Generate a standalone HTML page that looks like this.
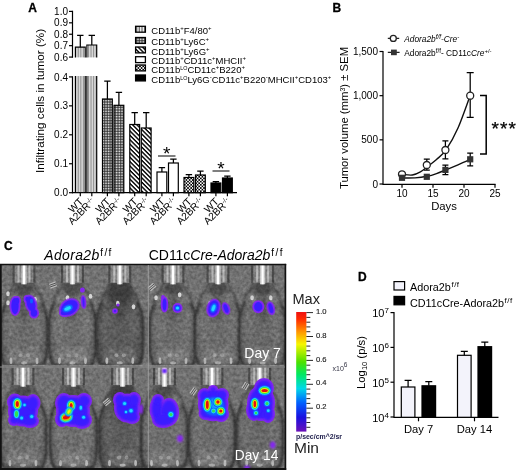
<!DOCTYPE html>
<html><head><meta charset="utf-8"><title>Figure</title>
<style>
html,body{margin:0;padding:0;background:#fff;}
body{width:520px;height:470px;overflow:hidden;}
svg{display:block;font-family:"Liberation Sans",Arial,sans-serif;}
.ax{stroke:#000;stroke-width:1.2;fill:none;}
.bar{stroke:#000;stroke-width:1.2;}
.eb{stroke:#000;stroke-width:1.25;fill:none;}
</style></head><body>
<svg width="520" height="470" viewBox="0 0 520 470">
<defs>
<pattern id="pv" width="1.6" height="4" patternUnits="userSpaceOnUse"><rect width="1.6" height="4" fill="#fff"/><rect x="0" width="0.6" height="4" fill="#333"/></pattern>
<pattern id="pg" width="1.6" height="1.6" patternUnits="userSpaceOnUse"><rect width="1.6" height="1.6" fill="#fff"/><rect width="0.62" height="1.6" fill="#222"/><rect width="1.6" height="0.62" fill="#222"/></pattern>
<pattern id="pd" width="3.1" height="3.1" patternUnits="userSpaceOnUse" patternTransform="rotate(45)"><rect width="3.1" height="3.1" fill="#fff"/><rect width="3.1" height="1.4" fill="#000"/></pattern>
<pattern id="pc" width="3.2" height="3.2" patternUnits="userSpaceOnUse"><rect width="3.2" height="3.2" fill="#fff"/><rect width="1.6" height="1.6" fill="#000"/><rect x="1.6" y="1.6" width="1.6" height="1.6" fill="#000"/></pattern>
<filter id="b1" x="-20%" y="-20%" width="140%" height="140%"><feGaussianBlur stdDeviation="1"/></filter>
<filter id="b2" x="-30%" y="-30%" width="160%" height="160%"><feGaussianBlur stdDeviation="2"/></filter>
<filter id="b05" x="-20%" y="-20%" width="140%" height="140%"><feGaussianBlur stdDeviation="0.6"/></filter>
<filter id="b3" x="-30%" y="-30%" width="160%" height="160%"><feGaussianBlur stdDeviation="3"/></filter>
<filter id="fur" x="0" y="0" width="100%" height="100%" color-interpolation-filters="sRGB"><feTurbulence type="fractalNoise" baseFrequency="0.3" numOctaves="2" seed="7"/><feColorMatrix type="matrix" values="1.3 0 0 0 -0.15  1.3 0 0 0 -0.15  1.3 0 0 0 -0.15  0 0 0 0 1"/></filter>
<linearGradient id="cb" x1="0" y1="0" x2="0" y2="1">
<stop offset="0" stop-color="#ee1111"/><stop offset="0.06" stop-color="#ff2a00"/><stop offset="0.17" stop-color="#ff9a00"/><stop offset="0.27" stop-color="#f6f600"/>
<stop offset="0.42" stop-color="#4be000"/><stop offset="0.52" stop-color="#00e860"/><stop offset="0.64" stop-color="#00d8e8"/><stop offset="0.76" stop-color="#0060ff"/>
<stop offset="0.88" stop-color="#1a10e0"/><stop offset="1" stop-color="#6a10b8"/></linearGradient>
</defs>
<rect width="520" height="470" fill="#fff"/>

<g id="panelA">
<text x="28.2" y="11.8" font-size="12" font-weight="bold" stroke="#000" stroke-width="0.3">A</text>
<path class="ax" d="M72.5 10.8V57.7M72.5 76.3V193.3"/>
<path class="ax" d="M69.0 11.4H72.5"/>
<text x="68" y="15.0" font-size="10" text-anchor="end">1.0</text>
<path class="ax" d="M69.0 22.82H72.5"/>
<text x="68" y="26.42" font-size="10" text-anchor="end">0.9</text>
<path class="ax" d="M69.0 34.24H72.5"/>
<text x="68" y="37.84" font-size="10" text-anchor="end">0.8</text>
<path class="ax" d="M69.0 45.66H72.5"/>
<text x="68" y="49.26" font-size="10" text-anchor="end">0.7</text>
<path class="ax" d="M69.0 57.08H72.5"/>
<text x="68" y="60.68" font-size="10" text-anchor="end">0.6</text>
<path class="ax" d="M69.0 76.90H72.5"/>
<text x="68" y="80.50" font-size="10" text-anchor="end">0.4</text>
<path class="ax" d="M69.0 105.85H72.5"/>
<text x="68" y="109.45" font-size="10" text-anchor="end">0.3</text>
<path class="ax" d="M69.0 134.80H72.5"/>
<text x="68" y="138.40" font-size="10" text-anchor="end">0.2</text>
<path class="ax" d="M69.0 163.75H72.5"/>
<text x="68" y="167.35" font-size="10" text-anchor="end">0.1</text>
<path class="ax" d="M69.0 192.70H72.5"/>
<text x="68" y="196.30" font-size="10" text-anchor="end">0.0</text>
<text transform="translate(44,101) rotate(-90)" font-size="11.7" text-anchor="middle">Infiltrating cells in tumor (%)</text>
<path class="ax" d="M71.9 192.7H237"/>
<rect x="75.4" y="47.2" width="9.8" height="10.20" fill="#fff" stroke="none"/>
<path d="M77.03 47.2V57.4M77.03 76V192.7M78.67 47.2V57.4M78.67 76V192.7M80.30 47.2V57.4M80.30 76V192.7M81.93 47.2V57.4M81.93 76V192.7M83.57 47.2V57.4M83.57 76V192.7" stroke="#333" stroke-width="0.55" fill="none"/>
<path class="bar" fill="none" d="M75.4 57.4V47.2H85.2V57.4"/>
<path class="eb" d="M80.30000000000001 47.2V35.4M77.10000000000001 35.4H83.50000000000001"/>
<path class="bar" fill="none" d="M75.4 76V192.7M85.2 76V192.7"/>
<path class="ax" d="M80.30000000000001 192.7V196.2"/>
<text transform="translate(83.80000000000001,202.2) rotate(-45)" font-size="10.2" text-anchor="end">WT</text>
<rect x="86.9" y="45" width="9.8" height="12.40" fill="#fff" stroke="none"/>
<path d="M88.53 45V57.4M88.53 76V192.7M90.17 45V57.4M90.17 76V192.7M91.80 45V57.4M91.80 76V192.7M93.43 45V57.4M93.43 76V192.7M95.07 45V57.4M95.07 76V192.7" stroke="#333" stroke-width="0.55" fill="none"/>
<path class="bar" fill="none" d="M86.9 57.4V45H96.7V57.4"/>
<path class="eb" d="M91.80000000000001 45V35.4M88.60000000000001 35.4H95.00000000000001"/>
<path class="bar" fill="none" d="M86.9 76V192.7M96.7 76V192.7"/>
<path class="ax" d="M91.80000000000001 192.7V196.2"/>
<text transform="translate(95.30000000000001,202.2) rotate(-45)" font-size="10.2" text-anchor="end">A2BR<tspan font-size="6.5" dy="-3.5">-/-</tspan></text>
<rect class="bar" x="102.5" y="99" width="9.8" height="93.70" fill="url(#pg)"/>
<path class="eb" d="M107.4 99V81M104.2 81H110.60000000000001"/>
<path class="ax" d="M107.4 192.7V196.2"/>
<text transform="translate(110.9,202.2) rotate(-45)" font-size="10.2" text-anchor="end">WT</text>
<rect class="bar" x="114.0" y="105.3" width="9.8" height="87.40" fill="url(#pg)"/>
<path class="eb" d="M118.9 105.3V92.3M115.7 92.3H122.10000000000001"/>
<path class="ax" d="M118.9 192.7V196.2"/>
<text transform="translate(122.4,202.2) rotate(-45)" font-size="10.2" text-anchor="end">A2BR<tspan font-size="6.5" dy="-3.5">-/-</tspan></text>
<rect class="bar" x="129.8" y="124.5" width="9.8" height="68.20" fill="url(#pd)"/>
<path class="eb" d="M134.70000000000002 124.5V112.5M131.50000000000003 112.5H137.9"/>
<path class="ax" d="M134.70000000000002 192.7V196.2"/>
<text transform="translate(138.20000000000002,202.2) rotate(-45)" font-size="10.2" text-anchor="end">WT</text>
<rect class="bar" x="141.3" y="128" width="9.8" height="64.70" fill="url(#pd)"/>
<path class="eb" d="M146.20000000000002 128V112.5M143.00000000000003 112.5H149.4"/>
<path class="ax" d="M146.20000000000002 192.7V196.2"/>
<text transform="translate(149.70000000000002,202.2) rotate(-45)" font-size="10.2" text-anchor="end">A2BR<tspan font-size="6.5" dy="-3.5">-/-</tspan></text>
<rect class="bar" x="157.0" y="172" width="9.8" height="20.70" fill="#fff"/>
<path class="eb" d="M161.9 172V167.5M158.70000000000002 167.5H165.1"/>
<path class="ax" d="M161.9 192.7V196.2"/>
<text transform="translate(165.4,202.2) rotate(-45)" font-size="10.2" text-anchor="end">WT</text>
<rect class="bar" x="168.5" y="163" width="9.8" height="29.70" fill="#fff"/>
<path class="eb" d="M173.4 163V159M170.20000000000002 159H176.6"/>
<path class="ax" d="M173.4 192.7V196.2"/>
<text transform="translate(176.9,202.2) rotate(-45)" font-size="10.2" text-anchor="end">A2BR<tspan font-size="6.5" dy="-3.5">-/-</tspan></text>
<rect class="bar" x="184.0" y="177.5" width="9.8" height="15.20" fill="url(#pc)"/>
<path class="eb" d="M188.9 177.5V174.5M185.70000000000002 174.5H192.1"/>
<path class="ax" d="M188.9 192.7V196.2"/>
<text transform="translate(192.4,202.2) rotate(-45)" font-size="10.2" text-anchor="end">WT</text>
<rect class="bar" x="195.5" y="175" width="9.8" height="17.70" fill="url(#pc)"/>
<path class="eb" d="M200.4 175V171M197.20000000000002 171H203.6"/>
<path class="ax" d="M200.4 192.7V196.2"/>
<text transform="translate(203.9,202.2) rotate(-45)" font-size="10.2" text-anchor="end">A2BR<tspan font-size="6.5" dy="-3.5">-/-</tspan></text>
<rect class="bar" x="211.0" y="183" width="9.8" height="9.70" fill="#000"/>
<path class="eb" d="M215.9 183V181.6M212.70000000000002 181.6H219.1"/>
<path class="ax" d="M215.9 192.7V196.2"/>
<text transform="translate(219.4,202.2) rotate(-45)" font-size="10.2" text-anchor="end">WT</text>
<rect class="bar" x="222.5" y="178" width="9.8" height="14.70" fill="#000"/>
<path class="eb" d="M227.4 178V176M224.20000000000002 176H230.6"/>
<path class="ax" d="M227.4 192.7V196.2"/>
<text transform="translate(230.9,202.2) rotate(-45)" font-size="10.2" text-anchor="end">A2BR<tspan font-size="6.5" dy="-3.5">-/-</tspan></text>
<path class="ax" d="M158 156H175.5M212.5 171H229.5"/>
<text x="166.8" y="159.7" font-size="19" text-anchor="middle">*</text>
<text x="221" y="175.2" font-size="19" text-anchor="middle">*</text>
<rect x="135.6" y="26.3" width="9.8" height="5.9" fill="url(#pv)" stroke="#000" stroke-width="1.3"/>
<text x="151.3" y="33.5" font-size="9.5">CD11b<tspan dy="-3.9" font-size="6">+</tspan><tspan dy="3.9" font-size="1">&#8203;</tspan>F4/80<tspan dy="-3.9" font-size="6">+</tspan><tspan dy="3.9" font-size="1">&#8203;</tspan></text>
<rect x="135.6" y="37.5" width="9.8" height="5.9" fill="url(#pg)" stroke="#000" stroke-width="1.3"/>
<text x="151.3" y="44.6" font-size="9.5">CD11b<tspan dy="-3.9" font-size="6">+</tspan><tspan dy="3.9" font-size="1">&#8203;</tspan>Ly6C<tspan dy="-3.9" font-size="6">+</tspan><tspan dy="3.9" font-size="1">&#8203;</tspan></text>
<rect x="135.6" y="47.0" width="9.8" height="5.9" fill="url(#pd)" stroke="#000" stroke-width="1.3"/>
<text x="151.3" y="54.6" font-size="9.5">CD11b<tspan dy="-3.9" font-size="6">+</tspan><tspan dy="3.9" font-size="1">&#8203;</tspan>Ly6G<tspan dy="-3.9" font-size="6">+</tspan><tspan dy="3.9" font-size="1">&#8203;</tspan></text>
<rect x="135.6" y="56.7" width="9.8" height="5.9" fill="#fff" stroke="#000" stroke-width="1.3"/>
<text x="151.3" y="64.2" font-size="9.5">CD11b<tspan dy="-3.9" font-size="6">+</tspan><tspan dy="3.9" font-size="1">&#8203;</tspan>CD11c<tspan dy="-3.9" font-size="6">+</tspan><tspan dy="3.9" font-size="1">&#8203;</tspan>MHCII<tspan dy="-3.9" font-size="6">+</tspan><tspan dy="3.9" font-size="1">&#8203;</tspan></text>
<rect x="135.6" y="65.0" width="9.8" height="5.9" fill="url(#pc)" stroke="#000" stroke-width="1.3"/>
<text x="151.3" y="72.8" font-size="9.5">CD11b<tspan dy="-2.8" font-size="5.4">LO</tspan><tspan dy="2.8" font-size="1">&#8203;</tspan>CD11c<tspan dy="-3.9" font-size="6">+</tspan><tspan dy="3.9" font-size="1">&#8203;</tspan>B220<tspan dy="-3.9" font-size="6">+</tspan><tspan dy="3.9" font-size="1">&#8203;</tspan></text>
<rect x="135.6" y="75.0" width="9.8" height="5.9" fill="#000" stroke="#000" stroke-width="1.3"/>
<text x="151.3" y="82.6" font-size="9.5">CD11b<tspan dy="-2.8" font-size="5.4">LO</tspan><tspan dy="2.8" font-size="1">&#8203;</tspan>Ly6G<tspan dy="-3.6" font-size="6">-</tspan><tspan dy="3.6" font-size="1">&#8203;</tspan>CD11c<tspan dy="-3.9" font-size="6">+</tspan><tspan dy="3.9" font-size="1">&#8203;</tspan>B220<tspan dy="-3.6" font-size="6">-</tspan><tspan dy="3.6" font-size="1">&#8203;</tspan>MHCII<tspan dy="-3.9" font-size="6">+</tspan><tspan dy="3.9" font-size="1">&#8203;</tspan>CD103<tspan dy="-3.9" font-size="6">+</tspan><tspan dy="3.9" font-size="1">&#8203;</tspan></text>
</g>
<g id="panelB">
<text x="332.6" y="12" font-size="12" font-weight="bold" stroke="#000" stroke-width="0.3">B</text>
<path class="ax" d="M383 51V184.3H495.6"/>
<path class="ax" d="M379.5 51.50H383"/>
<text x="378" y="55.10" font-size="10" text-anchor="end">1,500</text>
<path class="ax" d="M379.5 95.67H383"/>
<text x="378" y="99.27" font-size="10" text-anchor="end">1,000</text>
<path class="ax" d="M379.5 139.84H383"/>
<text x="378" y="143.44" font-size="10" text-anchor="end">500</text>
<path class="ax" d="M379.5 184.01H383"/>
<text x="378" y="187.61" font-size="10" text-anchor="end">0</text>
<path class="ax" d="M402 184.3V187.8"/>
<text x="402" y="197.3" font-size="10" text-anchor="middle">10</text>
<path class="ax" d="M433 184.3V187.8"/>
<text x="433" y="197.3" font-size="10" text-anchor="middle">15</text>
<path class="ax" d="M464 184.3V187.8"/>
<text x="464" y="197.3" font-size="10" text-anchor="middle">20</text>
<path class="ax" d="M495 184.3V187.8"/>
<text x="495" y="197.3" font-size="10" text-anchor="middle">25</text>
<text x="444" y="209.6" font-size="11.3" text-anchor="middle">Days</text>
<text transform="translate(348.2,118) rotate(-90)" font-size="11.3" text-anchor="middle">Tumor  volume (mm<tspan dy="-3.5" font-size="7">3</tspan><tspan dy="3.5">) ± SEM</tspan></text>
<path d="M402.5 174.4C404.1 174.5 409.3 175.4 412.3 175.0C415.3 174.6 417.9 173.2 420.4 171.8C422.9 170.5 424.4 169.0 427.1 166.9C429.8 164.8 433.4 162.3 436.5 159.5C439.6 156.7 442.4 155.1 446.0 149.8C449.6 144.5 454.1 136.8 458.1 127.7C462.1 118.6 468.2 100.8 470.2 95.4" stroke="#111" stroke-width="1.4" fill="none"/>
<path d="M402.5 178.0C404.6 178.0 410.9 178.2 415.0 177.9C419.1 177.6 423.5 177.0 427.1 176.3C430.7 175.6 433.4 174.7 436.5 173.6C439.6 172.5 442.4 171.2 446.0 169.8C449.6 168.4 454.0 166.6 458.0 164.9C462.0 163.2 468.2 160.4 470.2 159.5" stroke="#111" stroke-width="1.4" fill="none"/>
<path class="eb" stroke="#222" d="M470.2 72.7V117.3M466.7 72.7H473.7M466.7 117.3H473.7"/>
<path class="eb" stroke="#222" d="M445.4 140.8V158.8M442.4 140.8H448.4M442.4 158.8H448.4"/>
<path class="eb" stroke="#222" d="M426.8 159V170M423.8 159H429.8M423.8 170H429.8"/>
<path class="eb" stroke="#222" d="M470.2 153V165.8M467.2 153H473.2M467.2 165.8H473.2"/>
<path class="eb" stroke="#222" d="M445.4 165V174.5M442.4 165H448.4M442.4 174.5H448.4"/>
<circle cx="402.0" cy="174.3" r="3.5" fill="#fff" stroke="#222" stroke-width="1.3"/>
<circle cx="426.8" cy="165.0" r="3.5" fill="#fff" stroke="#222" stroke-width="1.3"/>
<circle cx="445.4" cy="150.0" r="3.5" fill="#fff" stroke="#222" stroke-width="1.3"/>
<circle cx="470.2" cy="95.7" r="3.5" fill="#fff" stroke="#222" stroke-width="1.3"/>
<rect x="398.9" y="174.7" width="6.2" height="6.2" fill="#333"/>
<rect x="423.7" y="173.7" width="6.2" height="6.2" fill="#333"/>
<rect x="442.3" y="166.8" width="6.2" height="6.2" fill="#333"/>
<rect x="467.1" y="156.2" width="6.2" height="6.2" fill="#333"/>
<path class="ax" stroke-width="1.5" style="stroke-width:1.5" d="M480 95.6H486.2V154H480"/>
<text x="504.3" y="134.6" font-size="19" stroke="#000" stroke-width="0.25" text-anchor="middle" letter-spacing="1.1">***</text>
<path d="M387.8 38.4H399.2M387.8 52.4H399.6" stroke="#222" stroke-width="1.4"/>
<circle cx="393.3" cy="38.4" r="3" fill="#fff" stroke="#222" stroke-width="1.3"/>
<rect x="391" y="49.6" width="5.8" height="5.6" fill="#333"/>
<text x="404.2" y="41.5" font-size="8.35" font-style="italic">Adora2b<tspan dy="-3" font-size="6.3">f/f</tspan><tspan dy="3">-Cre</tspan><tspan dy="-3" font-size="6">-</tspan></text>
<text x="404.2" y="55.6" font-size="8.35">Adora2b<tspan dy="-3" font-size="6.3">f/f</tspan><tspan dy="3">- CD11c</tspan><tspan font-style="italic">Cre</tspan><tspan dy="-3" font-size="6">+/-</tspan></text>
</g>
<g id="panelC">
<text x="4" y="250" font-size="12" font-weight="bold" stroke="#000" stroke-width="0.3">C</text>
<text x="44.3" y="260" font-size="14" font-style="italic" textLength="55" lengthAdjust="spacing">Adora2b</text><text x="100.3" y="255.8" font-size="10" textLength="11" lengthAdjust="spacing">f/f</text>
<text x="148.7" y="260" font-size="14" textLength="121.5" lengthAdjust="spacing">CD11c<tspan font-style="italic">Cre-Adora2b</tspan></text><text x="271.3" y="255.8" font-size="10" textLength="11.3" lengthAdjust="spacing">f/f</text>
<clipPath id="imgclip"><rect x="0" y="264" width="286" height="206"/></clipPath>
<g clip-path="url(#imgclip)">
<rect x="0" y="263.5" width="286" height="207" fill="#5c5c5c"/>
<rect x="0" y="263.5" width="286" height="207" fill="#717171"/>
<g transform="translate(24,265.3)">
<path d="M-6 13C-9 15 -11 19 -12 24C-16.5 27 -18.5 31 -19.5 38C-23.5 46 -24.5 52 -24.5 60L-24.5 82C-24.5 90 -22.5 96 -20.5 101L20.5 101C22.5 96 24.5 90 24.5 82L24.5 60C24.5 52 23.5 46 19.5 38C18.5 31 16.5 27 12 24C11 19 9 15 6 13Z" fill="#303030" filter="url(#b1)"/>
<path d="M-6 13C-9 15 -11 19 -12 24C-14 27 -16 31 -17 38C-21 46 -22 52 -22 60L-22 82C-22 90 -20 96 -18 99L18 99C20 96 22 90 22 82L22 60C22 52 21 46 17 38C16 31 14 27 12 24C11 19 9 15 6 13Z" fill="#606060" filter="url(#b1)"/>
<ellipse cx="0" cy="62" rx="14" ry="24" fill="#6a6a6a" filter="url(#b3)"/>
<ellipse cx="-11" cy="34" rx="7" ry="6" fill="#767676" filter="url(#b2)"/>
<ellipse cx="11" cy="34" rx="7" ry="6" fill="#767676" filter="url(#b2)"/>
<ellipse cx="0" cy="23" rx="9" ry="6.5" fill="#4c4c4c" filter="url(#b1)"/>
<ellipse cx="0" cy="44" rx="4" ry="12" fill="#545454" filter="url(#b2)"/>
<ellipse cx="-14" cy="62" rx="5" ry="20" fill="#727272" filter="url(#b2)"/>
<ellipse cx="14" cy="62" rx="5" ry="20" fill="#727272" filter="url(#b2)"/>
<ellipse cx="0" cy="92" rx="17" ry="7" fill="#7c7c7c" filter="url(#b2)"/>
<ellipse cx="-9" cy="86" rx="7" ry="6" fill="#787878" filter="url(#b2)"/>
<ellipse cx="9" cy="86" rx="7" ry="6" fill="#787878" filter="url(#b2)"/>
<rect x="-10.5" y="0" width="21" height="17.5" fill="#828282" filter="url(#b05)"/>
<rect x="-11.5" y="0" width="2.2" height="17.5" fill="#4a4a4a" filter="url(#b05)"/><rect x="9.3" y="0" width="2.2" height="17.5" fill="#4a4a4a" filter="url(#b05)"/>
<rect x="-6.5" y="0" width="2" height="17" fill="#b5b5b5" filter="url(#b05)"/><rect x="4.5" y="0" width="2" height="17" fill="#b5b5b5" filter="url(#b05)"/>
<rect x="-2.6" y="0" width="5.2" height="19" fill="#c4c4c4" filter="url(#b05)"/>
<rect x="-1.1" y="0" width="2.2" height="19" fill="#fff" filter="url(#b05)"/>
<ellipse cx="-16" cy="28.5" rx="1.8" ry="2.5" fill="#d4d4d4" filter="url(#b05)"/>
<ellipse cx="-16" cy="37.5" rx="1.8" ry="2.5" fill="#d4d4d4" filter="url(#b05)"/>
<ellipse cx="11" cy="34" rx="1.8" ry="2.5" fill="#d4d4d4" filter="url(#b05)"/>
<ellipse cx="-13" cy="95.5" rx="1.4" ry="3.2" fill="#b4b4b4" filter="url(#b05)"/>
<ellipse cx="13" cy="95.5" rx="1.4" ry="3.2" fill="#b4b4b4" filter="url(#b05)"/>
<ellipse cx="-3.5" cy="90" rx="2" ry="2" fill="#989898" filter="url(#b05)"/>
<ellipse cx="4" cy="90" rx="2" ry="2" fill="#989898" filter="url(#b05)"/>
<ellipse cx="0" cy="97.5" rx="3" ry="1.6" fill="#a8a8a8" filter="url(#b05)"/>
</g>
<g transform="translate(72.5,265.3)">
<path d="M-6 13C-9 15 -11 19 -12 24C-16.5 27 -18.5 31 -19.5 38C-23.5 46 -24.5 52 -24.5 60L-24.5 82C-24.5 90 -22.5 96 -20.5 101L20.5 101C22.5 96 24.5 90 24.5 82L24.5 60C24.5 52 23.5 46 19.5 38C18.5 31 16.5 27 12 24C11 19 9 15 6 13Z" fill="#303030" filter="url(#b1)"/>
<path d="M-6 13C-9 15 -11 19 -12 24C-14 27 -16 31 -17 38C-21 46 -22 52 -22 60L-22 82C-22 90 -20 96 -18 99L18 99C20 96 22 90 22 82L22 60C22 52 21 46 17 38C16 31 14 27 12 24C11 19 9 15 6 13Z" fill="#626262" filter="url(#b1)"/>
<ellipse cx="0" cy="62" rx="14" ry="24" fill="#6c6c6c" filter="url(#b3)"/>
<ellipse cx="-11" cy="34" rx="7" ry="6" fill="#787878" filter="url(#b2)"/>
<ellipse cx="11" cy="34" rx="7" ry="6" fill="#787878" filter="url(#b2)"/>
<ellipse cx="0" cy="23" rx="9" ry="6.5" fill="#4e4e4e" filter="url(#b1)"/>
<ellipse cx="0" cy="44" rx="4" ry="12" fill="#565656" filter="url(#b2)"/>
<ellipse cx="-14" cy="62" rx="5" ry="20" fill="#747474" filter="url(#b2)"/>
<ellipse cx="14" cy="62" rx="5" ry="20" fill="#747474" filter="url(#b2)"/>
<ellipse cx="0" cy="92" rx="17" ry="7" fill="#7e7e7e" filter="url(#b2)"/>
<ellipse cx="-9" cy="86" rx="7" ry="6" fill="#7a7a7a" filter="url(#b2)"/>
<ellipse cx="9" cy="86" rx="7" ry="6" fill="#7a7a7a" filter="url(#b2)"/>
<rect x="-10.5" y="0" width="21" height="17.5" fill="#828282" filter="url(#b05)"/>
<rect x="-11.5" y="0" width="2.2" height="17.5" fill="#4a4a4a" filter="url(#b05)"/><rect x="9.3" y="0" width="2.2" height="17.5" fill="#4a4a4a" filter="url(#b05)"/>
<rect x="-6.5" y="0" width="2" height="17" fill="#b5b5b5" filter="url(#b05)"/><rect x="4.5" y="0" width="2" height="17" fill="#b5b5b5" filter="url(#b05)"/>
<rect x="-2.6" y="0" width="5.2" height="19" fill="#c4c4c4" filter="url(#b05)"/>
<rect x="-1.1" y="0" width="2.2" height="19" fill="#fff" filter="url(#b05)"/>
<ellipse cx="-5" cy="32.5" rx="1.8" ry="2.5" fill="#d4d4d4" filter="url(#b05)"/>
<ellipse cx="18" cy="31" rx="1.8" ry="2.5" fill="#d4d4d4" filter="url(#b05)"/>
<ellipse cx="-13" cy="95.5" rx="1.4" ry="3.2" fill="#b4b4b4" filter="url(#b05)"/>
<ellipse cx="13" cy="95.5" rx="1.4" ry="3.2" fill="#b4b4b4" filter="url(#b05)"/>
<ellipse cx="-3.5" cy="90" rx="2" ry="2" fill="#989898" filter="url(#b05)"/>
<ellipse cx="4" cy="90" rx="2" ry="2" fill="#989898" filter="url(#b05)"/>
<ellipse cx="0" cy="97.5" rx="3" ry="1.6" fill="#a8a8a8" filter="url(#b05)"/>
</g>
<g transform="translate(119.8,265.3)">
<path d="M-6 13C-9 15 -11 19 -12 24C-16.5 27 -18.5 31 -19.5 38C-23.5 46 -24.5 52 -24.5 60L-24.5 82C-24.5 90 -22.5 96 -20.5 101L20.5 101C22.5 96 24.5 90 24.5 82L24.5 60C24.5 52 23.5 46 19.5 38C18.5 31 16.5 27 12 24C11 19 9 15 6 13Z" fill="#303030" filter="url(#b1)"/>
<path d="M-6 13C-9 15 -11 19 -12 24C-14 27 -16 31 -17 38C-21 46 -22 52 -22 60L-22 82C-22 90 -20 96 -18 99L18 99C20 96 22 90 22 82L22 60C22 52 21 46 17 38C16 31 14 27 12 24C11 19 9 15 6 13Z" fill="#505050" filter="url(#b1)"/>
<ellipse cx="0" cy="62" rx="14" ry="24" fill="#5a5a5a" filter="url(#b3)"/>
<ellipse cx="-11" cy="34" rx="7" ry="6" fill="#666666" filter="url(#b2)"/>
<ellipse cx="11" cy="34" rx="7" ry="6" fill="#666666" filter="url(#b2)"/>
<ellipse cx="0" cy="23" rx="9" ry="6.5" fill="#3c3c3c" filter="url(#b1)"/>
<ellipse cx="0" cy="30" rx="13" ry="11" fill="#3e3e3e" filter="url(#b2)"/>
<ellipse cx="0" cy="44" rx="4" ry="12" fill="#444444" filter="url(#b2)"/>
<ellipse cx="-14" cy="62" rx="5" ry="20" fill="#626262" filter="url(#b2)"/>
<ellipse cx="14" cy="62" rx="5" ry="20" fill="#626262" filter="url(#b2)"/>
<ellipse cx="0" cy="92" rx="17" ry="7" fill="#6c6c6c" filter="url(#b2)"/>
<ellipse cx="-9" cy="86" rx="7" ry="6" fill="#686868" filter="url(#b2)"/>
<ellipse cx="9" cy="86" rx="7" ry="6" fill="#686868" filter="url(#b2)"/>
<rect x="-10.5" y="0" width="21" height="17.5" fill="#828282" filter="url(#b05)"/>
<rect x="-11.5" y="0" width="2.2" height="17.5" fill="#4a4a4a" filter="url(#b05)"/><rect x="9.3" y="0" width="2.2" height="17.5" fill="#4a4a4a" filter="url(#b05)"/>
<rect x="-6.5" y="0" width="2" height="17" fill="#b5b5b5" filter="url(#b05)"/><rect x="4.5" y="0" width="2" height="17" fill="#b5b5b5" filter="url(#b05)"/>
<rect x="-2.6" y="0" width="5.2" height="19" fill="#c4c4c4" filter="url(#b05)"/>
<rect x="-1.1" y="0" width="2.2" height="19" fill="#fff" filter="url(#b05)"/>
<ellipse cx="-2" cy="38" rx="1.8" ry="2.5" fill="#d4d4d4" filter="url(#b05)"/>
<ellipse cx="13.7" cy="41.5" rx="1.8" ry="2.5" fill="#d4d4d4" filter="url(#b05)"/>
<ellipse cx="-13" cy="95.5" rx="1.4" ry="3.2" fill="#b4b4b4" filter="url(#b05)"/>
<ellipse cx="13" cy="95.5" rx="1.4" ry="3.2" fill="#b4b4b4" filter="url(#b05)"/>
<ellipse cx="-3.5" cy="90" rx="2" ry="2" fill="#989898" filter="url(#b05)"/>
<ellipse cx="4" cy="90" rx="2" ry="2" fill="#989898" filter="url(#b05)"/>
<ellipse cx="0" cy="97.5" rx="3" ry="1.6" fill="#a8a8a8" filter="url(#b05)"/>
</g>
<g transform="translate(173,265.3)">
<path d="M-6 13C-9 15 -11 19 -12 24C-16.5 27 -18.5 31 -19.5 38C-23.5 46 -24.5 52 -24.5 60L-24.5 82C-24.5 90 -22.5 96 -20.5 101L20.5 101C22.5 96 24.5 90 24.5 82L24.5 60C24.5 52 23.5 46 19.5 38C18.5 31 16.5 27 12 24C11 19 9 15 6 13Z" fill="#303030" filter="url(#b1)"/>
<path d="M-6 13C-9 15 -11 19 -12 24C-14 27 -16 31 -17 38C-21 46 -22 52 -22 60L-22 82C-22 90 -20 96 -18 99L18 99C20 96 22 90 22 82L22 60C22 52 21 46 17 38C16 31 14 27 12 24C11 19 9 15 6 13Z" fill="#606060" filter="url(#b1)"/>
<ellipse cx="0" cy="62" rx="14" ry="24" fill="#6a6a6a" filter="url(#b3)"/>
<ellipse cx="-11" cy="34" rx="7" ry="6" fill="#767676" filter="url(#b2)"/>
<ellipse cx="11" cy="34" rx="7" ry="6" fill="#767676" filter="url(#b2)"/>
<ellipse cx="0" cy="23" rx="9" ry="6.5" fill="#4c4c4c" filter="url(#b1)"/>
<ellipse cx="0" cy="44" rx="4" ry="12" fill="#545454" filter="url(#b2)"/>
<ellipse cx="-14" cy="62" rx="5" ry="20" fill="#727272" filter="url(#b2)"/>
<ellipse cx="14" cy="62" rx="5" ry="20" fill="#727272" filter="url(#b2)"/>
<ellipse cx="0" cy="92" rx="17" ry="7" fill="#7c7c7c" filter="url(#b2)"/>
<ellipse cx="-9" cy="86" rx="7" ry="6" fill="#787878" filter="url(#b2)"/>
<ellipse cx="9" cy="86" rx="7" ry="6" fill="#787878" filter="url(#b2)"/>
<rect x="-10.5" y="0" width="21" height="17.5" fill="#828282" filter="url(#b05)"/>
<rect x="-11.5" y="0" width="2.2" height="17.5" fill="#4a4a4a" filter="url(#b05)"/><rect x="9.3" y="0" width="2.2" height="17.5" fill="#4a4a4a" filter="url(#b05)"/>
<rect x="-6.5" y="0" width="2" height="17" fill="#b5b5b5" filter="url(#b05)"/><rect x="4.5" y="0" width="2" height="17" fill="#b5b5b5" filter="url(#b05)"/>
<rect x="-2.6" y="0" width="5.2" height="19" fill="#c4c4c4" filter="url(#b05)"/>
<rect x="-1.1" y="0" width="2.2" height="19" fill="#fff" filter="url(#b05)"/>
<ellipse cx="-17" cy="32.5" rx="1.8" ry="2.5" fill="#d4d4d4" filter="url(#b05)"/>
<ellipse cx="6.6" cy="29.5" rx="1.8" ry="2.5" fill="#d4d4d4" filter="url(#b05)"/>
<ellipse cx="-13" cy="95.5" rx="1.4" ry="3.2" fill="#b4b4b4" filter="url(#b05)"/>
<ellipse cx="13" cy="95.5" rx="1.4" ry="3.2" fill="#b4b4b4" filter="url(#b05)"/>
<ellipse cx="-3.5" cy="90" rx="2" ry="2" fill="#989898" filter="url(#b05)"/>
<ellipse cx="4" cy="90" rx="2" ry="2" fill="#989898" filter="url(#b05)"/>
<ellipse cx="0" cy="97.5" rx="3" ry="1.6" fill="#a8a8a8" filter="url(#b05)"/>
</g>
<g transform="translate(218,265.3)">
<path d="M-6 13C-9 15 -11 19 -12 24C-16.5 27 -18.5 31 -19.5 38C-23.5 46 -24.5 52 -24.5 60L-24.5 82C-24.5 90 -22.5 96 -20.5 101L20.5 101C22.5 96 24.5 90 24.5 82L24.5 60C24.5 52 23.5 46 19.5 38C18.5 31 16.5 27 12 24C11 19 9 15 6 13Z" fill="#303030" filter="url(#b1)"/>
<path d="M-6 13C-9 15 -11 19 -12 24C-14 27 -16 31 -17 38C-21 46 -22 52 -22 60L-22 82C-22 90 -20 96 -18 99L18 99C20 96 22 90 22 82L22 60C22 52 21 46 17 38C16 31 14 27 12 24C11 19 9 15 6 13Z" fill="#606060" filter="url(#b1)"/>
<ellipse cx="0" cy="62" rx="14" ry="24" fill="#6a6a6a" filter="url(#b3)"/>
<ellipse cx="-11" cy="34" rx="7" ry="6" fill="#767676" filter="url(#b2)"/>
<ellipse cx="11" cy="34" rx="7" ry="6" fill="#767676" filter="url(#b2)"/>
<ellipse cx="0" cy="23" rx="9" ry="6.5" fill="#4c4c4c" filter="url(#b1)"/>
<ellipse cx="0" cy="44" rx="4" ry="12" fill="#545454" filter="url(#b2)"/>
<ellipse cx="-14" cy="62" rx="5" ry="20" fill="#727272" filter="url(#b2)"/>
<ellipse cx="14" cy="62" rx="5" ry="20" fill="#727272" filter="url(#b2)"/>
<ellipse cx="0" cy="92" rx="17" ry="7" fill="#7c7c7c" filter="url(#b2)"/>
<ellipse cx="-9" cy="86" rx="7" ry="6" fill="#787878" filter="url(#b2)"/>
<ellipse cx="9" cy="86" rx="7" ry="6" fill="#787878" filter="url(#b2)"/>
<rect x="-10.5" y="0" width="21" height="17.5" fill="#828282" filter="url(#b05)"/>
<rect x="-11.5" y="0" width="2.2" height="17.5" fill="#4a4a4a" filter="url(#b05)"/><rect x="9.3" y="0" width="2.2" height="17.5" fill="#4a4a4a" filter="url(#b05)"/>
<rect x="-6.5" y="0" width="2" height="17" fill="#b5b5b5" filter="url(#b05)"/><rect x="4.5" y="0" width="2" height="17" fill="#b5b5b5" filter="url(#b05)"/>
<rect x="-2.6" y="0" width="5.2" height="19" fill="#c4c4c4" filter="url(#b05)"/>
<rect x="-1.1" y="0" width="2.2" height="19" fill="#fff" filter="url(#b05)"/>
<ellipse cx="-8" cy="38" rx="1.8" ry="2.5" fill="#d4d4d4" filter="url(#b05)"/>
<ellipse cx="-13" cy="95.5" rx="1.4" ry="3.2" fill="#b4b4b4" filter="url(#b05)"/>
<ellipse cx="13" cy="95.5" rx="1.4" ry="3.2" fill="#b4b4b4" filter="url(#b05)"/>
<ellipse cx="-3.5" cy="90" rx="2" ry="2" fill="#989898" filter="url(#b05)"/>
<ellipse cx="4" cy="90" rx="2" ry="2" fill="#989898" filter="url(#b05)"/>
<ellipse cx="0" cy="97.5" rx="3" ry="1.6" fill="#a8a8a8" filter="url(#b05)"/>
</g>
<g transform="translate(262.6,265.3)">
<path d="M-6 13C-9 15 -11 19 -12 24C-16.5 27 -18.5 31 -19.5 38C-23.5 46 -24.5 52 -24.5 60L-24.5 82C-24.5 90 -22.5 96 -20.5 101L20.5 101C22.5 96 24.5 90 24.5 82L24.5 60C24.5 52 23.5 46 19.5 38C18.5 31 16.5 27 12 24C11 19 9 15 6 13Z" fill="#303030" filter="url(#b1)"/>
<path d="M-6 13C-9 15 -11 19 -12 24C-14 27 -16 31 -17 38C-21 46 -22 52 -22 60L-22 82C-22 90 -20 96 -18 99L18 99C20 96 22 90 22 82L22 60C22 52 21 46 17 38C16 31 14 27 12 24C11 19 9 15 6 13Z" fill="#5e5e5e" filter="url(#b1)"/>
<ellipse cx="0" cy="62" rx="14" ry="24" fill="#686868" filter="url(#b3)"/>
<ellipse cx="-11" cy="34" rx="7" ry="6" fill="#747474" filter="url(#b2)"/>
<ellipse cx="11" cy="34" rx="7" ry="6" fill="#747474" filter="url(#b2)"/>
<ellipse cx="0" cy="23" rx="9" ry="6.5" fill="#4a4a4a" filter="url(#b1)"/>
<ellipse cx="0" cy="44" rx="4" ry="12" fill="#525252" filter="url(#b2)"/>
<ellipse cx="-14" cy="62" rx="5" ry="20" fill="#707070" filter="url(#b2)"/>
<ellipse cx="14" cy="62" rx="5" ry="20" fill="#707070" filter="url(#b2)"/>
<ellipse cx="0" cy="92" rx="17" ry="7" fill="#7a7a7a" filter="url(#b2)"/>
<ellipse cx="-9" cy="86" rx="7" ry="6" fill="#767676" filter="url(#b2)"/>
<ellipse cx="9" cy="86" rx="7" ry="6" fill="#767676" filter="url(#b2)"/>
<rect x="-10.5" y="0" width="21" height="17.5" fill="#828282" filter="url(#b05)"/>
<rect x="-11.5" y="0" width="2.2" height="17.5" fill="#4a4a4a" filter="url(#b05)"/><rect x="9.3" y="0" width="2.2" height="17.5" fill="#4a4a4a" filter="url(#b05)"/>
<rect x="-6.5" y="0" width="2" height="17" fill="#b5b5b5" filter="url(#b05)"/><rect x="4.5" y="0" width="2" height="17" fill="#b5b5b5" filter="url(#b05)"/>
<rect x="-2.6" y="0" width="5.2" height="19" fill="#c4c4c4" filter="url(#b05)"/>
<rect x="-1.1" y="0" width="2.2" height="19" fill="#fff" filter="url(#b05)"/>
<ellipse cx="-10.5" cy="32.5" rx="1.8" ry="2.5" fill="#d4d4d4" filter="url(#b05)"/>
<ellipse cx="8.2" cy="32.5" rx="1.8" ry="2.5" fill="#d4d4d4" filter="url(#b05)"/>
<ellipse cx="-13" cy="95.5" rx="1.4" ry="3.2" fill="#b4b4b4" filter="url(#b05)"/>
<ellipse cx="13" cy="95.5" rx="1.4" ry="3.2" fill="#b4b4b4" filter="url(#b05)"/>
<ellipse cx="-3.5" cy="90" rx="2" ry="2" fill="#989898" filter="url(#b05)"/>
<ellipse cx="4" cy="90" rx="2" ry="2" fill="#989898" filter="url(#b05)"/>
<ellipse cx="0" cy="97.5" rx="3" ry="1.6" fill="#a8a8a8" filter="url(#b05)"/>
</g>
<rect x="0" y="364.8" width="286" height="1.6" fill="#808080"/>
<g transform="translate(23,367.6)">
<path d="M-6 13C-9 15 -11 19 -12 24C-16.5 27 -18.5 31 -19.5 38C-23.5 46 -24.5 52 -24.5 60L-24.5 82C-24.5 90 -22.5 96 -20.5 101L20.5 101C22.5 96 24.5 90 24.5 82L24.5 60C24.5 52 23.5 46 19.5 38C18.5 31 16.5 27 12 24C11 19 9 15 6 13Z" fill="#303030" filter="url(#b1)"/>
<path d="M-6 13C-9 15 -11 19 -12 24C-14 27 -16 31 -17 38C-21 46 -22 52 -22 60L-22 82C-22 90 -20 96 -18 99L18 99C20 96 22 90 22 82L22 60C22 52 21 46 17 38C16 31 14 27 12 24C11 19 9 15 6 13Z" fill="#606060" filter="url(#b1)"/>
<ellipse cx="0" cy="62" rx="14" ry="24" fill="#6a6a6a" filter="url(#b3)"/>
<ellipse cx="-11" cy="34" rx="7" ry="6" fill="#767676" filter="url(#b2)"/>
<ellipse cx="11" cy="34" rx="7" ry="6" fill="#767676" filter="url(#b2)"/>
<ellipse cx="0" cy="23" rx="9" ry="6.5" fill="#4c4c4c" filter="url(#b1)"/>
<ellipse cx="0" cy="44" rx="4" ry="12" fill="#545454" filter="url(#b2)"/>
<ellipse cx="-14" cy="62" rx="5" ry="20" fill="#727272" filter="url(#b2)"/>
<ellipse cx="14" cy="62" rx="5" ry="20" fill="#727272" filter="url(#b2)"/>
<ellipse cx="0" cy="92" rx="17" ry="7" fill="#7c7c7c" filter="url(#b2)"/>
<ellipse cx="-9" cy="86" rx="7" ry="6" fill="#787878" filter="url(#b2)"/>
<ellipse cx="9" cy="86" rx="7" ry="6" fill="#787878" filter="url(#b2)"/>
<rect x="-10.5" y="0" width="21" height="17.5" fill="#828282" filter="url(#b05)"/>
<rect x="-11.5" y="0" width="2.2" height="17.5" fill="#4a4a4a" filter="url(#b05)"/><rect x="9.3" y="0" width="2.2" height="17.5" fill="#4a4a4a" filter="url(#b05)"/>
<rect x="-6.5" y="0" width="2" height="17" fill="#b5b5b5" filter="url(#b05)"/><rect x="4.5" y="0" width="2" height="17" fill="#b5b5b5" filter="url(#b05)"/>
<rect x="-2.6" y="0" width="5.2" height="19" fill="#c4c4c4" filter="url(#b05)"/>
<rect x="-1.1" y="0" width="2.2" height="19" fill="#fff" filter="url(#b05)"/>
<ellipse cx="-13" cy="95.5" rx="1.4" ry="3.2" fill="#b4b4b4" filter="url(#b05)"/>
<ellipse cx="13" cy="95.5" rx="1.4" ry="3.2" fill="#b4b4b4" filter="url(#b05)"/>
<ellipse cx="-3.5" cy="90" rx="2" ry="2" fill="#989898" filter="url(#b05)"/>
<ellipse cx="4" cy="90" rx="2" ry="2" fill="#989898" filter="url(#b05)"/>
<ellipse cx="0" cy="97.5" rx="3" ry="1.6" fill="#a8a8a8" filter="url(#b05)"/>
</g>
<g transform="translate(73.5,367.6)">
<path d="M-6 13C-9 15 -11 19 -12 24C-16.5 27 -18.5 31 -19.5 38C-23.5 46 -24.5 52 -24.5 60L-24.5 82C-24.5 90 -22.5 96 -20.5 101L20.5 101C22.5 96 24.5 90 24.5 82L24.5 60C24.5 52 23.5 46 19.5 38C18.5 31 16.5 27 12 24C11 19 9 15 6 13Z" fill="#303030" filter="url(#b1)"/>
<path d="M-6 13C-9 15 -11 19 -12 24C-14 27 -16 31 -17 38C-21 46 -22 52 -22 60L-22 82C-22 90 -20 96 -18 99L18 99C20 96 22 90 22 82L22 60C22 52 21 46 17 38C16 31 14 27 12 24C11 19 9 15 6 13Z" fill="#626262" filter="url(#b1)"/>
<ellipse cx="0" cy="62" rx="14" ry="24" fill="#6c6c6c" filter="url(#b3)"/>
<ellipse cx="-11" cy="34" rx="7" ry="6" fill="#787878" filter="url(#b2)"/>
<ellipse cx="11" cy="34" rx="7" ry="6" fill="#787878" filter="url(#b2)"/>
<ellipse cx="0" cy="23" rx="9" ry="6.5" fill="#4e4e4e" filter="url(#b1)"/>
<ellipse cx="0" cy="44" rx="4" ry="12" fill="#565656" filter="url(#b2)"/>
<ellipse cx="-14" cy="62" rx="5" ry="20" fill="#747474" filter="url(#b2)"/>
<ellipse cx="14" cy="62" rx="5" ry="20" fill="#747474" filter="url(#b2)"/>
<ellipse cx="0" cy="92" rx="17" ry="7" fill="#7e7e7e" filter="url(#b2)"/>
<ellipse cx="-9" cy="86" rx="7" ry="6" fill="#7a7a7a" filter="url(#b2)"/>
<ellipse cx="9" cy="86" rx="7" ry="6" fill="#7a7a7a" filter="url(#b2)"/>
<rect x="-10.5" y="0" width="21" height="17.5" fill="#828282" filter="url(#b05)"/>
<rect x="-11.5" y="0" width="2.2" height="17.5" fill="#4a4a4a" filter="url(#b05)"/><rect x="9.3" y="0" width="2.2" height="17.5" fill="#4a4a4a" filter="url(#b05)"/>
<rect x="-6.5" y="0" width="2" height="17" fill="#b5b5b5" filter="url(#b05)"/><rect x="4.5" y="0" width="2" height="17" fill="#b5b5b5" filter="url(#b05)"/>
<rect x="-2.6" y="0" width="5.2" height="19" fill="#c4c4c4" filter="url(#b05)"/>
<rect x="-1.1" y="0" width="2.2" height="19" fill="#fff" filter="url(#b05)"/>
<ellipse cx="-13" cy="95.5" rx="1.4" ry="3.2" fill="#b4b4b4" filter="url(#b05)"/>
<ellipse cx="13" cy="95.5" rx="1.4" ry="3.2" fill="#b4b4b4" filter="url(#b05)"/>
<ellipse cx="-3.5" cy="90" rx="2" ry="2" fill="#989898" filter="url(#b05)"/>
<ellipse cx="4" cy="90" rx="2" ry="2" fill="#989898" filter="url(#b05)"/>
<ellipse cx="0" cy="97.5" rx="3" ry="1.6" fill="#a8a8a8" filter="url(#b05)"/>
</g>
<g transform="translate(122.6,367.6)">
<path d="M-6 13C-9 15 -11 19 -12 24C-16.5 27 -18.5 31 -19.5 38C-23.5 46 -24.5 52 -24.5 60L-24.5 82C-24.5 90 -22.5 96 -20.5 101L20.5 101C22.5 96 24.5 90 24.5 82L24.5 60C24.5 52 23.5 46 19.5 38C18.5 31 16.5 27 12 24C11 19 9 15 6 13Z" fill="#303030" filter="url(#b1)"/>
<path d="M-6 13C-9 15 -11 19 -12 24C-14 27 -16 31 -17 38C-21 46 -22 52 -22 60L-22 82C-22 90 -20 96 -18 99L18 99C20 96 22 90 22 82L22 60C22 52 21 46 17 38C16 31 14 27 12 24C11 19 9 15 6 13Z" fill="#505050" filter="url(#b1)"/>
<ellipse cx="0" cy="62" rx="14" ry="24" fill="#5a5a5a" filter="url(#b3)"/>
<ellipse cx="-11" cy="34" rx="7" ry="6" fill="#666666" filter="url(#b2)"/>
<ellipse cx="11" cy="34" rx="7" ry="6" fill="#666666" filter="url(#b2)"/>
<ellipse cx="0" cy="23" rx="9" ry="6.5" fill="#3c3c3c" filter="url(#b1)"/>
<ellipse cx="0" cy="30" rx="13" ry="11" fill="#3e3e3e" filter="url(#b2)"/>
<ellipse cx="0" cy="44" rx="4" ry="12" fill="#444444" filter="url(#b2)"/>
<ellipse cx="-14" cy="62" rx="5" ry="20" fill="#626262" filter="url(#b2)"/>
<ellipse cx="14" cy="62" rx="5" ry="20" fill="#626262" filter="url(#b2)"/>
<ellipse cx="0" cy="92" rx="17" ry="7" fill="#6c6c6c" filter="url(#b2)"/>
<ellipse cx="-9" cy="86" rx="7" ry="6" fill="#686868" filter="url(#b2)"/>
<ellipse cx="9" cy="86" rx="7" ry="6" fill="#686868" filter="url(#b2)"/>
<rect x="-10.5" y="0" width="21" height="17.5" fill="#828282" filter="url(#b05)"/>
<rect x="-11.5" y="0" width="2.2" height="17.5" fill="#4a4a4a" filter="url(#b05)"/><rect x="9.3" y="0" width="2.2" height="17.5" fill="#4a4a4a" filter="url(#b05)"/>
<rect x="-6.5" y="0" width="2" height="17" fill="#b5b5b5" filter="url(#b05)"/><rect x="4.5" y="0" width="2" height="17" fill="#b5b5b5" filter="url(#b05)"/>
<rect x="-2.6" y="0" width="5.2" height="19" fill="#c4c4c4" filter="url(#b05)"/>
<rect x="-1.1" y="0" width="2.2" height="19" fill="#fff" filter="url(#b05)"/>
<ellipse cx="-13" cy="95.5" rx="1.4" ry="3.2" fill="#b4b4b4" filter="url(#b05)"/>
<ellipse cx="13" cy="95.5" rx="1.4" ry="3.2" fill="#b4b4b4" filter="url(#b05)"/>
<ellipse cx="-3.5" cy="90" rx="2" ry="2" fill="#989898" filter="url(#b05)"/>
<ellipse cx="4" cy="90" rx="2" ry="2" fill="#989898" filter="url(#b05)"/>
<ellipse cx="0" cy="97.5" rx="3" ry="1.6" fill="#a8a8a8" filter="url(#b05)"/>
</g>
<g transform="translate(164.5,367.6)">
<path d="M-6 13C-9 15 -11 19 -12 24C-16.5 27 -18.5 31 -19.5 38C-23.5 46 -24.5 52 -24.5 60L-24.5 82C-24.5 90 -22.5 96 -20.5 101L20.5 101C22.5 96 24.5 90 24.5 82L24.5 60C24.5 52 23.5 46 19.5 38C18.5 31 16.5 27 12 24C11 19 9 15 6 13Z" fill="#303030" filter="url(#b1)"/>
<path d="M-6 13C-9 15 -11 19 -12 24C-14 27 -16 31 -17 38C-21 46 -22 52 -22 60L-22 82C-22 90 -20 96 -18 99L18 99C20 96 22 90 22 82L22 60C22 52 21 46 17 38C16 31 14 27 12 24C11 19 9 15 6 13Z" fill="#606060" filter="url(#b1)"/>
<ellipse cx="0" cy="62" rx="14" ry="24" fill="#6a6a6a" filter="url(#b3)"/>
<ellipse cx="-11" cy="34" rx="7" ry="6" fill="#767676" filter="url(#b2)"/>
<ellipse cx="11" cy="34" rx="7" ry="6" fill="#767676" filter="url(#b2)"/>
<ellipse cx="0" cy="23" rx="9" ry="6.5" fill="#4c4c4c" filter="url(#b1)"/>
<ellipse cx="0" cy="44" rx="4" ry="12" fill="#545454" filter="url(#b2)"/>
<ellipse cx="-14" cy="62" rx="5" ry="20" fill="#727272" filter="url(#b2)"/>
<ellipse cx="14" cy="62" rx="5" ry="20" fill="#727272" filter="url(#b2)"/>
<ellipse cx="0" cy="92" rx="17" ry="7" fill="#7c7c7c" filter="url(#b2)"/>
<ellipse cx="-9" cy="86" rx="7" ry="6" fill="#787878" filter="url(#b2)"/>
<ellipse cx="9" cy="86" rx="7" ry="6" fill="#787878" filter="url(#b2)"/>
<rect x="-10.5" y="0" width="21" height="17.5" fill="#828282" filter="url(#b05)"/>
<rect x="-11.5" y="0" width="2.2" height="17.5" fill="#4a4a4a" filter="url(#b05)"/><rect x="9.3" y="0" width="2.2" height="17.5" fill="#4a4a4a" filter="url(#b05)"/>
<rect x="-6.5" y="0" width="2" height="17" fill="#b5b5b5" filter="url(#b05)"/><rect x="4.5" y="0" width="2" height="17" fill="#b5b5b5" filter="url(#b05)"/>
<rect x="-2.6" y="0" width="5.2" height="19" fill="#c4c4c4" filter="url(#b05)"/>
<rect x="-1.1" y="0" width="2.2" height="19" fill="#fff" filter="url(#b05)"/>
<ellipse cx="-13" cy="95.5" rx="1.4" ry="3.2" fill="#b4b4b4" filter="url(#b05)"/>
<ellipse cx="13" cy="95.5" rx="1.4" ry="3.2" fill="#b4b4b4" filter="url(#b05)"/>
<ellipse cx="-3.5" cy="90" rx="2" ry="2" fill="#989898" filter="url(#b05)"/>
<ellipse cx="4" cy="90" rx="2" ry="2" fill="#989898" filter="url(#b05)"/>
<ellipse cx="0" cy="97.5" rx="3" ry="1.6" fill="#a8a8a8" filter="url(#b05)"/>
</g>
<g transform="translate(212,367.6)">
<path d="M-6 13C-9 15 -11 19 -12 24C-16.5 27 -18.5 31 -19.5 38C-23.5 46 -24.5 52 -24.5 60L-24.5 82C-24.5 90 -22.5 96 -20.5 101L20.5 101C22.5 96 24.5 90 24.5 82L24.5 60C24.5 52 23.5 46 19.5 38C18.5 31 16.5 27 12 24C11 19 9 15 6 13Z" fill="#303030" filter="url(#b1)"/>
<path d="M-6 13C-9 15 -11 19 -12 24C-14 27 -16 31 -17 38C-21 46 -22 52 -22 60L-22 82C-22 90 -20 96 -18 99L18 99C20 96 22 90 22 82L22 60C22 52 21 46 17 38C16 31 14 27 12 24C11 19 9 15 6 13Z" fill="#606060" filter="url(#b1)"/>
<ellipse cx="0" cy="62" rx="14" ry="24" fill="#6a6a6a" filter="url(#b3)"/>
<ellipse cx="-11" cy="34" rx="7" ry="6" fill="#767676" filter="url(#b2)"/>
<ellipse cx="11" cy="34" rx="7" ry="6" fill="#767676" filter="url(#b2)"/>
<ellipse cx="0" cy="23" rx="9" ry="6.5" fill="#4c4c4c" filter="url(#b1)"/>
<ellipse cx="0" cy="44" rx="4" ry="12" fill="#545454" filter="url(#b2)"/>
<ellipse cx="-14" cy="62" rx="5" ry="20" fill="#727272" filter="url(#b2)"/>
<ellipse cx="14" cy="62" rx="5" ry="20" fill="#727272" filter="url(#b2)"/>
<ellipse cx="0" cy="92" rx="17" ry="7" fill="#7c7c7c" filter="url(#b2)"/>
<ellipse cx="-9" cy="86" rx="7" ry="6" fill="#787878" filter="url(#b2)"/>
<ellipse cx="9" cy="86" rx="7" ry="6" fill="#787878" filter="url(#b2)"/>
<rect x="-10.5" y="0" width="21" height="17.5" fill="#828282" filter="url(#b05)"/>
<rect x="-11.5" y="0" width="2.2" height="17.5" fill="#4a4a4a" filter="url(#b05)"/><rect x="9.3" y="0" width="2.2" height="17.5" fill="#4a4a4a" filter="url(#b05)"/>
<rect x="-6.5" y="0" width="2" height="17" fill="#b5b5b5" filter="url(#b05)"/><rect x="4.5" y="0" width="2" height="17" fill="#b5b5b5" filter="url(#b05)"/>
<rect x="-2.6" y="0" width="5.2" height="19" fill="#c4c4c4" filter="url(#b05)"/>
<rect x="-1.1" y="0" width="2.2" height="19" fill="#fff" filter="url(#b05)"/>
<ellipse cx="-13" cy="95.5" rx="1.4" ry="3.2" fill="#b4b4b4" filter="url(#b05)"/>
<ellipse cx="13" cy="95.5" rx="1.4" ry="3.2" fill="#b4b4b4" filter="url(#b05)"/>
<ellipse cx="-3.5" cy="90" rx="2" ry="2" fill="#989898" filter="url(#b05)"/>
<ellipse cx="4" cy="90" rx="2" ry="2" fill="#989898" filter="url(#b05)"/>
<ellipse cx="0" cy="97.5" rx="3" ry="1.6" fill="#a8a8a8" filter="url(#b05)"/>
</g>
<g transform="translate(259.7,367.6)">
<path d="M-6 13C-9 15 -11 19 -12 24C-16.5 27 -18.5 31 -19.5 38C-23.5 46 -24.5 52 -24.5 60L-24.5 82C-24.5 90 -22.5 96 -20.5 101L20.5 101C22.5 96 24.5 90 24.5 82L24.5 60C24.5 52 23.5 46 19.5 38C18.5 31 16.5 27 12 24C11 19 9 15 6 13Z" fill="#303030" filter="url(#b1)"/>
<path d="M-6 13C-9 15 -11 19 -12 24C-14 27 -16 31 -17 38C-21 46 -22 52 -22 60L-22 82C-22 90 -20 96 -18 99L18 99C20 96 22 90 22 82L22 60C22 52 21 46 17 38C16 31 14 27 12 24C11 19 9 15 6 13Z" fill="#5e5e5e" filter="url(#b1)"/>
<ellipse cx="0" cy="62" rx="14" ry="24" fill="#686868" filter="url(#b3)"/>
<ellipse cx="-11" cy="34" rx="7" ry="6" fill="#747474" filter="url(#b2)"/>
<ellipse cx="11" cy="34" rx="7" ry="6" fill="#747474" filter="url(#b2)"/>
<ellipse cx="0" cy="23" rx="9" ry="6.5" fill="#4a4a4a" filter="url(#b1)"/>
<ellipse cx="0" cy="44" rx="4" ry="12" fill="#525252" filter="url(#b2)"/>
<ellipse cx="-14" cy="62" rx="5" ry="20" fill="#707070" filter="url(#b2)"/>
<ellipse cx="14" cy="62" rx="5" ry="20" fill="#707070" filter="url(#b2)"/>
<ellipse cx="0" cy="92" rx="17" ry="7" fill="#7a7a7a" filter="url(#b2)"/>
<ellipse cx="-9" cy="86" rx="7" ry="6" fill="#767676" filter="url(#b2)"/>
<ellipse cx="9" cy="86" rx="7" ry="6" fill="#767676" filter="url(#b2)"/>
<rect x="-10.5" y="0" width="21" height="17.5" fill="#828282" filter="url(#b05)"/>
<rect x="-11.5" y="0" width="2.2" height="17.5" fill="#4a4a4a" filter="url(#b05)"/><rect x="9.3" y="0" width="2.2" height="17.5" fill="#4a4a4a" filter="url(#b05)"/>
<rect x="-6.5" y="0" width="2" height="17" fill="#b5b5b5" filter="url(#b05)"/><rect x="4.5" y="0" width="2" height="17" fill="#b5b5b5" filter="url(#b05)"/>
<rect x="-2.6" y="0" width="5.2" height="19" fill="#c4c4c4" filter="url(#b05)"/>
<rect x="-1.1" y="0" width="2.2" height="19" fill="#fff" filter="url(#b05)"/>
<ellipse cx="-13" cy="95.5" rx="1.4" ry="3.2" fill="#b4b4b4" filter="url(#b05)"/>
<ellipse cx="13" cy="95.5" rx="1.4" ry="3.2" fill="#b4b4b4" filter="url(#b05)"/>
<ellipse cx="-3.5" cy="90" rx="2" ry="2" fill="#989898" filter="url(#b05)"/>
<ellipse cx="4" cy="90" rx="2" ry="2" fill="#989898" filter="url(#b05)"/>
<ellipse cx="0" cy="97.5" rx="3" ry="1.6" fill="#a8a8a8" filter="url(#b05)"/>
</g>
<rect x="0" y="263.5" width="286" height="207" filter="url(#fur)" style="mix-blend-mode:overlay" opacity="0.22"/>
<g transform="translate(53,285) rotate(-20)"><rect x="-3.5" y="-2.6" width="7" height="5.2" fill="#b8b8b8"/><path d="M-3.5 -0.9H3.5M-3.5 0.9H3.5" stroke="#444" stroke-width="0.8"/></g>
<g transform="translate(152,287) rotate(-40)"><rect x="-3.5" y="-2.6" width="7" height="5.2" fill="#b8b8b8"/><path d="M-3.5 -0.9H3.5M-3.5 0.9H3.5" stroke="#444" stroke-width="0.8"/></g>
<g transform="translate(107,402) rotate(-40)"><rect x="-3.5" y="-2.6" width="7" height="5.2" fill="#b8b8b8"/><path d="M-3.5 -0.9H3.5M-3.5 0.9H3.5" stroke="#444" stroke-width="0.8"/></g>
<g transform="translate(193.5,391.5) rotate(-55)"><rect x="-3.5" y="-2.6" width="7" height="5.2" fill="#b8b8b8"/><path d="M-3.5 -0.9H3.5M-3.5 0.9H3.5" stroke="#444" stroke-width="0.8"/></g>
<g transform="translate(245.5,386) rotate(-60)"><rect x="-3.5" y="-2.6" width="7" height="5.2" fill="#b8b8b8"/><path d="M-3.5 -0.9H3.5M-3.5 0.9H3.5" stroke="#444" stroke-width="0.8"/></g>
<ellipse cx="15" cy="306" rx="5.5" ry="10" fill="#8428f0" transform="rotate(0 15 306)" filter="url(#b05)"/><ellipse cx="17" cy="301" rx="4" ry="5" fill="#8428f0" transform="rotate(0 17 301)" filter="url(#b05)"/><ellipse cx="31" cy="304" rx="6" ry="9.5" fill="#8428f0" transform="rotate(-15 31 304)" filter="url(#b05)"/><ellipse cx="34" cy="313" rx="5" ry="5.5" fill="#8428f0" transform="rotate(0 34 313)" filter="url(#b05)"/><ellipse cx="27" cy="299" rx="3.5" ry="4" fill="#8428f0" transform="rotate(0 27 299)" filter="url(#b05)"/><ellipse cx="15" cy="306" rx="3.7" ry="8.2" fill="#3a1eff" transform="rotate(0 15 306)" filter="url(#b05)"/><ellipse cx="17" cy="301" rx="2.2" ry="3.2" fill="#3a1eff" transform="rotate(0 17 301)" filter="url(#b05)"/><ellipse cx="31" cy="304" rx="4.2" ry="7.7" fill="#3a1eff" transform="rotate(-15 31 304)" filter="url(#b05)"/><ellipse cx="34" cy="313" rx="3.2" ry="3.7" fill="#3a1eff" transform="rotate(0 34 313)" filter="url(#b05)"/><ellipse cx="27" cy="299" rx="1.7" ry="2.2" fill="#3a1eff" transform="rotate(0 27 299)" filter="url(#b05)"/>
<ellipse cx="31.5" cy="301" rx="1.5" ry="2.5" fill="#1060ff" transform="rotate(0 31.5 301)" filter="url(#b05)"/>
<ellipse cx="69.4" cy="307.5" rx="11" ry="8.5" fill="#8428f0" transform="rotate(-35 69.4 307.5)" filter="url(#b05)"/><ellipse cx="64" cy="313" rx="5" ry="4" fill="#8428f0" transform="rotate(0 64 313)" filter="url(#b05)"/><ellipse cx="69.4" cy="307.5" rx="9.2" ry="6.7" fill="#3a1eff" transform="rotate(-35 69.4 307.5)" filter="url(#b05)"/><ellipse cx="64" cy="313" rx="3.2" ry="2.2" fill="#3a1eff" transform="rotate(0 64 313)" filter="url(#b05)"/>
<ellipse cx="67.7" cy="308.5" rx="3.8" ry="2.1" fill="#20d8ff" transform="rotate(-25 67.7 308.5)" filter="url(#b05)"/>
<ellipse cx="67.7" cy="308.5" rx="5.5" ry="3.4" fill="#1060ff" transform="rotate(-25 67.7 308.5)" filter="url(#b05)"/>
<ellipse cx="67.7" cy="308.5" rx="3.6" ry="1.9" fill="#20d8ff" transform="rotate(-25 67.7 308.5)" filter="url(#b05)"/>
<ellipse cx="82.4" cy="290" rx="2.4" ry="2.6" fill="#8428f0" transform="rotate(0 82.4 290)" filter="url(#b05)"/><ellipse cx="83.5" cy="302" rx="2.8" ry="7" fill="#8428f0" transform="rotate(-5 83.5 302)" filter="url(#b05)"/><ellipse cx="83.5" cy="302" rx="0.9999999999999998" ry="5.2" fill="#3a1eff" transform="rotate(-5 83.5 302)" filter="url(#b05)"/>
<ellipse cx="115" cy="311" rx="2.8" ry="2.8" fill="#8428f0" transform="rotate(0 115 311)" filter="url(#b05)"/><ellipse cx="118" cy="305" rx="1.6" ry="1.6" fill="#8428f0" transform="rotate(0 118 305)" filter="url(#b05)"/><ellipse cx="115" cy="311" rx="0.9999999999999998" ry="0.9999999999999998" fill="#3a1eff" transform="rotate(0 115 311)" filter="url(#b05)"/>
<ellipse cx="164.5" cy="304.5" rx="3.8" ry="8" fill="#8428f0" transform="rotate(0 164.5 304.5)" filter="url(#b05)"/><ellipse cx="163" cy="298" rx="2" ry="3" fill="#8428f0" transform="rotate(0 163 298)" filter="url(#b05)"/><ellipse cx="164.5" cy="304.5" rx="1.9999999999999998" ry="6.2" fill="#3a1eff" transform="rotate(0 164.5 304.5)" filter="url(#b05)"/>
<ellipse cx="177.5" cy="308" rx="5" ry="5" fill="#8428f0" transform="rotate(0 177.5 308)" filter="url(#b05)"/><ellipse cx="177.5" cy="308" rx="3.2" ry="3.2" fill="#3a1eff" transform="rotate(0 177.5 308)" filter="url(#b05)"/>
<ellipse cx="177.5" cy="308" rx="2.6" ry="2.6" fill="#1060ff" transform="rotate(0 177.5 308)" filter="url(#b05)"/>
<ellipse cx="177.5" cy="308" rx="1.6" ry="1.6" fill="#20d8ff" transform="rotate(0 177.5 308)" filter="url(#b05)"/>
<ellipse cx="213.5" cy="308" rx="7" ry="9.5" fill="#8428f0" transform="rotate(15 213.5 308)" filter="url(#b05)"/><ellipse cx="213.5" cy="308" rx="5.2" ry="7.7" fill="#3a1eff" transform="rotate(15 213.5 308)" filter="url(#b05)"/>
<ellipse cx="213.5" cy="308" rx="3.2" ry="5" fill="#1060ff" transform="rotate(20 213.5 308)" filter="url(#b05)"/>
<ellipse cx="213.5" cy="308" rx="1.8" ry="3.6" fill="#20d8ff" transform="rotate(20 213.5 308)" filter="url(#b05)"/>
<ellipse cx="226" cy="308.5" rx="4" ry="6.5" fill="#8428f0" transform="rotate(-20 226 308.5)" filter="url(#b05)"/><ellipse cx="226" cy="308.5" rx="2.2" ry="4.7" fill="#3a1eff" transform="rotate(-20 226 308.5)" filter="url(#b05)"/>
<ellipse cx="258.3" cy="306.7" rx="6" ry="6.5" fill="#8428f0" transform="rotate(0 258.3 306.7)" filter="url(#b05)"/><ellipse cx="258.3" cy="306.7" rx="4.2" ry="4.7" fill="#3a1eff" transform="rotate(0 258.3 306.7)" filter="url(#b05)"/>
<ellipse cx="270.8" cy="308.2" rx="4" ry="7" fill="#8428f0" transform="rotate(-15 270.8 308.2)" filter="url(#b05)"/><ellipse cx="270.8" cy="308.2" rx="2.2" ry="5.2" fill="#3a1eff" transform="rotate(-15 270.8 308.2)" filter="url(#b05)"/>
<ellipse cx="23" cy="411" rx="15" ry="15.5" fill="#8428f0" transform="rotate(0 23 411)" filter="url(#b05)"/><ellipse cx="15" cy="402" rx="8" ry="8.5" fill="#8428f0" transform="rotate(0 15 402)" filter="url(#b05)"/><ellipse cx="33" cy="403" rx="7.5" ry="9" fill="#8428f0" transform="rotate(0 33 403)" filter="url(#b05)"/><ellipse cx="30" cy="421" rx="9" ry="7" fill="#8428f0" transform="rotate(0 30 421)" filter="url(#b05)"/><ellipse cx="14" cy="420" rx="6" ry="6" fill="#8428f0" transform="rotate(0 14 420)" filter="url(#b05)"/><ellipse cx="23" cy="411" rx="12.8" ry="13.3" fill="#3a1eff" transform="rotate(0 23 411)" filter="url(#b1)"/><ellipse cx="15" cy="402" rx="5.8" ry="6.3" fill="#3a1eff" transform="rotate(0 15 402)" filter="url(#b1)"/><ellipse cx="33" cy="403" rx="5.3" ry="6.8" fill="#3a1eff" transform="rotate(0 33 403)" filter="url(#b1)"/><ellipse cx="30" cy="421" rx="6.8" ry="4.8" fill="#3a1eff" transform="rotate(0 30 421)" filter="url(#b1)"/><ellipse cx="14" cy="420" rx="3.8" ry="3.8" fill="#3a1eff" transform="rotate(0 14 420)" filter="url(#b1)"/>
<ellipse cx="17.3" cy="404" rx="5.2" ry="6.6" fill="#1060ff" transform="rotate(0 17.3 404)" filter="url(#b05)"/><ellipse cx="17.3" cy="404" rx="4.3" ry="5.7" fill="#20d8ff" transform="rotate(0 17.3 404)" filter="url(#b05)"/><ellipse cx="17.3" cy="404" rx="3.4" ry="4.8" fill="#30e050" transform="rotate(0 17.3 404)" filter="url(#b05)"/><ellipse cx="17.3" cy="404" rx="2.5" ry="3.9" fill="#f0f000" transform="rotate(0 17.3 404)" filter="url(#b05)"/><ellipse cx="17.3" cy="404" rx="1.6" ry="3.0" fill="#e81010" transform="rotate(0 17.3 404)" filter="url(#b05)"/>
<ellipse cx="16.5" cy="414" rx="3.4" ry="4.8" fill="#1060ff" transform="rotate(0 16.5 414)" filter="url(#b05)"/><ellipse cx="16.5" cy="414" rx="2.5" ry="3.9" fill="#20d8ff" transform="rotate(0 16.5 414)" filter="url(#b05)"/><ellipse cx="16.5" cy="414" rx="1.6" ry="3.0" fill="#30e050" transform="rotate(0 16.5 414)" filter="url(#b05)"/>
<ellipse cx="24.5" cy="405" rx="2.2" ry="2.2" fill="#1060ff" transform="rotate(0 24.5 405)" filter="url(#b05)"/><ellipse cx="24.5" cy="405" rx="1.3" ry="1.3" fill="#20d8ff" transform="rotate(0 24.5 405)" filter="url(#b05)"/>
<ellipse cx="31.7" cy="416.5" rx="2.5" ry="2.5" fill="#1060ff" transform="rotate(0 31.7 416.5)" filter="url(#b05)"/><ellipse cx="31.7" cy="416.5" rx="1.6" ry="1.6" fill="#20d8ff" transform="rotate(0 31.7 416.5)" filter="url(#b05)"/>
<ellipse cx="21.6" cy="418" rx="2.4" ry="2.4" fill="#1060ff" transform="rotate(0 21.6 418)" filter="url(#b05)"/><ellipse cx="21.6" cy="418" rx="1.5" ry="1.5" fill="#20d8ff" transform="rotate(0 21.6 418)" filter="url(#b05)"/>
<ellipse cx="73" cy="411" rx="17" ry="16" fill="#8428f0" transform="rotate(0 73 411)" filter="url(#b05)"/><ellipse cx="64" cy="403" rx="9" ry="10" fill="#8428f0" transform="rotate(0 64 403)" filter="url(#b05)"/><ellipse cx="84" cy="401" rx="8" ry="8" fill="#8428f0" transform="rotate(0 84 401)" filter="url(#b05)"/><ellipse cx="82" cy="420" rx="10" ry="9" fill="#8428f0" transform="rotate(0 82 420)" filter="url(#b05)"/><ellipse cx="62" cy="419" rx="7" ry="8" fill="#8428f0" transform="rotate(0 62 419)" filter="url(#b05)"/><ellipse cx="73" cy="411" rx="14.8" ry="13.8" fill="#3a1eff" transform="rotate(0 73 411)" filter="url(#b1)"/><ellipse cx="64" cy="403" rx="6.8" ry="7.8" fill="#3a1eff" transform="rotate(0 64 403)" filter="url(#b1)"/><ellipse cx="84" cy="401" rx="5.8" ry="5.8" fill="#3a1eff" transform="rotate(0 84 401)" filter="url(#b1)"/><ellipse cx="82" cy="420" rx="7.8" ry="6.8" fill="#3a1eff" transform="rotate(0 82 420)" filter="url(#b1)"/><ellipse cx="62" cy="419" rx="4.8" ry="5.8" fill="#3a1eff" transform="rotate(0 62 419)" filter="url(#b1)"/>
<ellipse cx="66.3" cy="417.3" rx="7.2" ry="5.8" fill="#1060ff" transform="rotate(-15 66.3 417.3)" filter="url(#b05)"/><ellipse cx="66.3" cy="417.3" rx="6.3" ry="4.9" fill="#20d8ff" transform="rotate(-15 66.3 417.3)" filter="url(#b05)"/><ellipse cx="66.3" cy="417.3" rx="5.4" ry="4.0" fill="#30e050" transform="rotate(-15 66.3 417.3)" filter="url(#b05)"/><ellipse cx="66.3" cy="417.3" rx="4.5" ry="3.1" fill="#f0f000" transform="rotate(-15 66.3 417.3)" filter="url(#b05)"/><ellipse cx="66.3" cy="417.3" rx="3.6" ry="2.2" fill="#e81010" transform="rotate(-15 66.3 417.3)" filter="url(#b05)"/>
<ellipse cx="71.2" cy="405.5" rx="5.1" ry="6.2" fill="#1060ff" transform="rotate(0 71.2 405.5)" filter="url(#b05)"/><ellipse cx="71.2" cy="405.5" rx="4.2" ry="5.3" fill="#20d8ff" transform="rotate(0 71.2 405.5)" filter="url(#b05)"/><ellipse cx="71.2" cy="405.5" rx="3.3" ry="4.4" fill="#30e050" transform="rotate(0 71.2 405.5)" filter="url(#b05)"/><ellipse cx="71.2" cy="405.5" rx="2.4" ry="3.5" fill="#f0f000" transform="rotate(0 71.2 405.5)" filter="url(#b05)"/><ellipse cx="71.2" cy="405.5" rx="1.5" ry="2.6" fill="#e81010" transform="rotate(0 71.2 405.5)" filter="url(#b05)"/>
<ellipse cx="69" cy="411.5" rx="4.2" ry="5.2" fill="#1060ff" transform="rotate(30 69 411.5)" filter="url(#b05)"/><ellipse cx="69" cy="411.5" rx="3.3" ry="4.3" fill="#20d8ff" transform="rotate(30 69 411.5)" filter="url(#b05)"/><ellipse cx="69" cy="411.5" rx="2.4" ry="3.4" fill="#30e050" transform="rotate(30 69 411.5)" filter="url(#b05)"/><ellipse cx="69" cy="411.5" rx="1.5" ry="2.5" fill="#f0f000" transform="rotate(30 69 411.5)" filter="url(#b05)"/>
<ellipse cx="83.6" cy="417.3" rx="2.4" ry="2.4" fill="#1060ff" transform="rotate(0 83.6 417.3)" filter="url(#b05)"/><ellipse cx="83.6" cy="417.3" rx="1.5" ry="1.5" fill="#20d8ff" transform="rotate(0 83.6 417.3)" filter="url(#b05)"/>
<ellipse cx="80.8" cy="407.8" rx="2.2" ry="2.9" fill="#1060ff" transform="rotate(0 80.8 407.8)" filter="url(#b05)"/><ellipse cx="80.8" cy="407.8" rx="1.3" ry="2.0" fill="#20d8ff" transform="rotate(0 80.8 407.8)" filter="url(#b05)"/>
<ellipse cx="127" cy="408" rx="13" ry="14.5" fill="#8428f0" transform="rotate(0 127 408)" filter="url(#b05)"/><ellipse cx="120" cy="400" rx="7" ry="8" fill="#8428f0" transform="rotate(0 120 400)" filter="url(#b05)"/><ellipse cx="134" cy="400" rx="7" ry="8" fill="#8428f0" transform="rotate(0 134 400)" filter="url(#b05)"/><ellipse cx="132" cy="417" rx="8" ry="7" fill="#8428f0" transform="rotate(0 132 417)" filter="url(#b05)"/><ellipse cx="127" cy="408" rx="10.8" ry="12.3" fill="#3a1eff" transform="rotate(0 127 408)" filter="url(#b1)"/><ellipse cx="120" cy="400" rx="4.8" ry="5.8" fill="#3a1eff" transform="rotate(0 120 400)" filter="url(#b1)"/><ellipse cx="134" cy="400" rx="4.8" ry="5.8" fill="#3a1eff" transform="rotate(0 134 400)" filter="url(#b1)"/><ellipse cx="132" cy="417" rx="5.8" ry="4.8" fill="#3a1eff" transform="rotate(0 132 417)" filter="url(#b1)"/>
<ellipse cx="124.6" cy="403.5" rx="2.5" ry="2.5" fill="#1060ff" transform="rotate(0 124.6 403.5)" filter="url(#b05)"/><ellipse cx="124.6" cy="403.5" rx="1.6" ry="1.6" fill="#20d8ff" transform="rotate(0 124.6 403.5)" filter="url(#b05)"/>
<ellipse cx="131" cy="410.7" rx="2.7" ry="2.7" fill="#1060ff" transform="rotate(0 131 410.7)" filter="url(#b05)"/><ellipse cx="131" cy="410.7" rx="1.8" ry="1.8" fill="#20d8ff" transform="rotate(0 131 410.7)" filter="url(#b05)"/>
<ellipse cx="126" cy="412" rx="2.1" ry="2.1" fill="#1060ff" transform="rotate(0 126 412)" filter="url(#b05)"/><ellipse cx="126" cy="412" rx="1.2" ry="1.2" fill="#20d8ff" transform="rotate(0 126 412)" filter="url(#b05)"/>
<ellipse cx="157" cy="409" rx="7.5" ry="13" fill="#8428f0" transform="rotate(0 157 409)" filter="url(#b05)"/><ellipse cx="169" cy="412" rx="10" ry="14" fill="#8428f0" transform="rotate(0 169 412)" filter="url(#b05)"/><ellipse cx="163" cy="420" rx="11" ry="8" fill="#8428f0" transform="rotate(0 163 420)" filter="url(#b05)"/><ellipse cx="158" cy="400" rx="6" ry="6" fill="#8428f0" transform="rotate(0 158 400)" filter="url(#b05)"/><ellipse cx="157" cy="409" rx="5.3" ry="10.8" fill="#3a1eff" transform="rotate(0 157 409)" filter="url(#b1)"/><ellipse cx="169" cy="412" rx="7.8" ry="11.8" fill="#3a1eff" transform="rotate(0 169 412)" filter="url(#b1)"/><ellipse cx="163" cy="420" rx="8.8" ry="5.8" fill="#3a1eff" transform="rotate(0 163 420)" filter="url(#b1)"/><ellipse cx="158" cy="400" rx="3.8" ry="3.8" fill="#3a1eff" transform="rotate(0 158 400)" filter="url(#b1)"/>
<ellipse cx="170.9" cy="414.5" rx="3.4" ry="3.4" fill="#1060ff" transform="rotate(0 170.9 414.5)" filter="url(#b05)"/><ellipse cx="170.9" cy="414.5" rx="2.5" ry="2.5" fill="#20d8ff" transform="rotate(0 170.9 414.5)" filter="url(#b05)"/><ellipse cx="170.9" cy="414.5" rx="1.6" ry="1.6" fill="#30e050" transform="rotate(0 170.9 414.5)" filter="url(#b05)"/>
<ellipse cx="164.5" cy="371" rx="2.4" ry="2.4" fill="#8428f0" transform="rotate(0 164.5 371)" filter="url(#b1)"/>
<ellipse cx="164.5" cy="371" rx="1.4" ry="1.4" fill="#3a1eff" transform="rotate(0 164.5 371)" filter="url(#b1)"/>
<ellipse cx="213.2" cy="404.5" rx="15.3" ry="16.8" fill="#8428f0" transform="rotate(0 213.2 404.5)" filter="url(#b05)"/><ellipse cx="204.5" cy="396" rx="7" ry="8" fill="#8428f0" transform="rotate(0 204.5 396)" filter="url(#b05)"/><ellipse cx="222" cy="395" rx="7" ry="7" fill="#8428f0" transform="rotate(0 222 395)" filter="url(#b05)"/><ellipse cx="221" cy="414" rx="8" ry="8" fill="#8428f0" transform="rotate(0 221 414)" filter="url(#b05)"/><ellipse cx="205.5" cy="413" rx="7" ry="7" fill="#8428f0" transform="rotate(0 205.5 413)" filter="url(#b05)"/><ellipse cx="213" cy="389" rx="5" ry="4" fill="#8428f0" transform="rotate(0 213 389)" filter="url(#b05)"/><ellipse cx="213.2" cy="404.5" rx="13.100000000000001" ry="14.600000000000001" fill="#3a1eff" transform="rotate(0 213.2 404.5)" filter="url(#b1)"/><ellipse cx="204.5" cy="396" rx="4.8" ry="5.8" fill="#3a1eff" transform="rotate(0 204.5 396)" filter="url(#b1)"/><ellipse cx="222" cy="395" rx="4.8" ry="4.8" fill="#3a1eff" transform="rotate(0 222 395)" filter="url(#b1)"/><ellipse cx="221" cy="414" rx="5.8" ry="5.8" fill="#3a1eff" transform="rotate(0 221 414)" filter="url(#b1)"/><ellipse cx="205.5" cy="413" rx="4.8" ry="4.8" fill="#3a1eff" transform="rotate(0 205.5 413)" filter="url(#b1)"/><ellipse cx="213" cy="389" rx="2.8" ry="1.7999999999999998" fill="#3a1eff" transform="rotate(0 213 389)" filter="url(#b1)"/>
<ellipse cx="214" cy="406.5" rx="10.5" ry="9.5" fill="#1060ff" transform="rotate(0 214 406.5)" filter="url(#b1)"/>
<ellipse cx="214" cy="406" rx="7" ry="7" fill="#18a0ff" transform="rotate(0 214 406)" filter="url(#b1)"/>
<ellipse cx="207.3" cy="404.8" rx="5.1" ry="7.8" fill="#1060ff" transform="rotate(0 207.3 404.8)" filter="url(#b05)"/><ellipse cx="207.3" cy="404.8" rx="4.2" ry="6.9" fill="#20d8ff" transform="rotate(0 207.3 404.8)" filter="url(#b05)"/><ellipse cx="207.3" cy="404.8" rx="3.3" ry="6.0" fill="#30e050" transform="rotate(0 207.3 404.8)" filter="url(#b05)"/><ellipse cx="207.3" cy="404.8" rx="2.4" ry="5.1" fill="#f0f000" transform="rotate(0 207.3 404.8)" filter="url(#b05)"/><ellipse cx="207.3" cy="404.8" rx="1.5" ry="4.2" fill="#e81010" transform="rotate(0 207.3 404.8)" filter="url(#b05)"/>
<ellipse cx="217.9" cy="402" rx="5.3" ry="5.3" fill="#1060ff" transform="rotate(0 217.9 402)" filter="url(#b05)"/><ellipse cx="217.9" cy="402" rx="4.4" ry="4.4" fill="#20d8ff" transform="rotate(0 217.9 402)" filter="url(#b05)"/><ellipse cx="217.9" cy="402" rx="3.5" ry="3.5" fill="#30e050" transform="rotate(0 217.9 402)" filter="url(#b05)"/><ellipse cx="217.9" cy="402" rx="2.6" ry="2.6" fill="#f0f000" transform="rotate(0 217.9 402)" filter="url(#b05)"/><ellipse cx="217.9" cy="402" rx="1.7" ry="1.7" fill="#e81010" transform="rotate(0 217.9 402)" filter="url(#b05)"/>
<ellipse cx="220.8" cy="411" rx="5.2" ry="5.2" fill="#1060ff" transform="rotate(0 220.8 411)" filter="url(#b05)"/><ellipse cx="220.8" cy="411" rx="4.3" ry="4.3" fill="#20d8ff" transform="rotate(0 220.8 411)" filter="url(#b05)"/><ellipse cx="220.8" cy="411" rx="3.4" ry="3.4" fill="#30e050" transform="rotate(0 220.8 411)" filter="url(#b05)"/><ellipse cx="220.8" cy="411" rx="2.5" ry="2.5" fill="#f0f000" transform="rotate(0 220.8 411)" filter="url(#b05)"/><ellipse cx="220.8" cy="411" rx="1.6" ry="1.6" fill="#e81010" transform="rotate(0 220.8 411)" filter="url(#b05)"/>
<ellipse cx="213.5" cy="411" rx="3.3" ry="3.3" fill="#1060ff" transform="rotate(0 213.5 411)" filter="url(#b05)"/><ellipse cx="213.5" cy="411" rx="2.4" ry="2.4" fill="#20d8ff" transform="rotate(0 213.5 411)" filter="url(#b05)"/><ellipse cx="213.5" cy="411" rx="1.5" ry="1.5" fill="#30e050" transform="rotate(0 213.5 411)" filter="url(#b05)"/>
<ellipse cx="261" cy="403" rx="14" ry="18" fill="#8428f0" transform="rotate(0 261 403)" filter="url(#b05)"/><ellipse cx="264" cy="388" rx="10" ry="10" fill="#8428f0" transform="rotate(0 264 388)" filter="url(#b05)"/><ellipse cx="254" cy="410" rx="8" ry="11" fill="#8428f0" transform="rotate(0 254 410)" filter="url(#b05)"/><ellipse cx="268" cy="414" rx="7" ry="9" fill="#8428f0" transform="rotate(0 268 414)" filter="url(#b05)"/><ellipse cx="261" cy="403" rx="11.8" ry="15.8" fill="#3a1eff" transform="rotate(0 261 403)" filter="url(#b1)"/><ellipse cx="264" cy="388" rx="7.8" ry="7.8" fill="#3a1eff" transform="rotate(0 264 388)" filter="url(#b1)"/><ellipse cx="254" cy="410" rx="5.8" ry="8.8" fill="#3a1eff" transform="rotate(0 254 410)" filter="url(#b1)"/><ellipse cx="268" cy="414" rx="4.8" ry="6.8" fill="#3a1eff" transform="rotate(0 268 414)" filter="url(#b1)"/>
<ellipse cx="264.6" cy="390.5" rx="6.8" ry="5.2" fill="#1060ff" transform="rotate(0 264.6 390.5)" filter="url(#b05)"/><ellipse cx="264.6" cy="390.5" rx="5.9" ry="4.3" fill="#20d8ff" transform="rotate(0 264.6 390.5)" filter="url(#b05)"/><ellipse cx="264.6" cy="390.5" rx="5.0" ry="3.4" fill="#30e050" transform="rotate(0 264.6 390.5)" filter="url(#b05)"/><ellipse cx="264.6" cy="390.5" rx="4.1" ry="2.5" fill="#f0f000" transform="rotate(0 264.6 390.5)" filter="url(#b05)"/><ellipse cx="264.6" cy="390.5" rx="3.2" ry="1.6" fill="#e81010" transform="rotate(0 264.6 390.5)" filter="url(#b05)"/>
<ellipse cx="254.8" cy="404" rx="4.9" ry="6.8" fill="#1060ff" transform="rotate(0 254.8 404)" filter="url(#b05)"/><ellipse cx="254.8" cy="404" rx="4.0" ry="5.9" fill="#20d8ff" transform="rotate(0 254.8 404)" filter="url(#b05)"/><ellipse cx="254.8" cy="404" rx="3.1" ry="5.0" fill="#30e050" transform="rotate(0 254.8 404)" filter="url(#b05)"/><ellipse cx="254.8" cy="404" rx="2.2" ry="4.1" fill="#f0f000" transform="rotate(0 254.8 404)" filter="url(#b05)"/><ellipse cx="254.8" cy="404" rx="1.3" ry="3.2" fill="#e81010" transform="rotate(0 254.8 404)" filter="url(#b05)"/>
<ellipse cx="267" cy="403.5" rx="3.3" ry="3.3" fill="#1060ff" transform="rotate(0 267 403.5)" filter="url(#b05)"/><ellipse cx="267" cy="403.5" rx="2.4" ry="2.4" fill="#20d8ff" transform="rotate(0 267 403.5)" filter="url(#b05)"/><ellipse cx="267" cy="403.5" rx="1.5" ry="1.5" fill="#30e050" transform="rotate(0 267 403.5)" filter="url(#b05)"/>
<ellipse cx="268.3" cy="410.7" rx="2.3" ry="2.3" fill="#1060ff" transform="rotate(0 268.3 410.7)" filter="url(#b05)"/><ellipse cx="268.3" cy="410.7" rx="1.4" ry="1.4" fill="#20d8ff" transform="rotate(0 268.3 410.7)" filter="url(#b05)"/>
<ellipse cx="256" cy="413" rx="3.0" ry="3.0" fill="#1060ff" transform="rotate(0 256 413)" filter="url(#b05)"/><ellipse cx="256" cy="413" rx="2.1" ry="2.1" fill="#20d8ff" transform="rotate(0 256 413)" filter="url(#b05)"/><ellipse cx="256" cy="413" rx="1.2" ry="1.2" fill="#30e050" transform="rotate(0 256 413)" filter="url(#b05)"/>
<ellipse cx="272.7" cy="445" rx="2.8" ry="3.6" fill="#8428f0" transform="rotate(0 272.7 445)" filter="url(#b1)"/>
<ellipse cx="180" cy="438.5" rx="3" ry="3.6" fill="#8428f0" transform="rotate(0 180 438.5)" filter="url(#b1)"/>
<ellipse cx="247" cy="468" rx="3" ry="2.5" fill="#8428f0" transform="rotate(0 247 468)" filter="url(#b1)"/>
<ellipse cx="141" cy="409" rx="2" ry="5" fill="#8428f0" transform="rotate(0 141 409)" filter="url(#b1)"/>
</g>
<path d="M0 264.6H286.2" stroke="#111" stroke-width="1.5"/><path d="M285.4 263.9V470" stroke="#111" stroke-width="1.7"/><path d="M0.85 263.9V470" stroke="#111" stroke-width="1.7"/><path d="M0 469H286.2" stroke="#111" stroke-width="2"/>
<path d="M0 367H285" stroke="#8c8c8c" stroke-width="1.1"/><path d="M148.3 265V468" stroke="#a4a4a4" stroke-width="0.8"/>
<text x="244.3" y="357.7" font-size="15" fill="#fff" textLength="36.5" lengthAdjust="spacingAndGlyphs">Day 7</text>
<text x="234.8" y="459.8" font-size="15" fill="#fff" textLength="43.5" lengthAdjust="spacingAndGlyphs">Day 14</text>
<rect x="296.2" y="312" width="10.2" height="119.6" fill="url(#cb)"/>
<path d="M306.4 312.6h6.6" stroke="#111" stroke-width="0.9"/>
<path d="M306.4 317.4h3.9" stroke="#111" stroke-width="0.9"/>
<path d="M306.4 322.2h3.9" stroke="#111" stroke-width="0.9"/>
<path d="M306.4 326.9h3.9" stroke="#111" stroke-width="0.9"/>
<path d="M306.4 331.7h3.9" stroke="#111" stroke-width="0.9"/>
<path d="M306.4 336.5h6.6" stroke="#111" stroke-width="0.9"/>
<path d="M306.4 341.3h3.9" stroke="#111" stroke-width="0.9"/>
<path d="M306.4 346.1h3.9" stroke="#111" stroke-width="0.9"/>
<path d="M306.4 350.8h3.9" stroke="#111" stroke-width="0.9"/>
<path d="M306.4 355.6h3.9" stroke="#111" stroke-width="0.9"/>
<path d="M306.4 360.4h6.6" stroke="#111" stroke-width="0.9"/>
<path d="M306.4 365.2h3.9" stroke="#111" stroke-width="0.9"/>
<path d="M306.4 370.0h3.9" stroke="#111" stroke-width="0.9"/>
<path d="M306.4 374.7h3.9" stroke="#111" stroke-width="0.9"/>
<path d="M306.4 379.5h3.9" stroke="#111" stroke-width="0.9"/>
<path d="M306.4 384.3h6.6" stroke="#111" stroke-width="0.9"/>
<path d="M306.4 389.1h3.9" stroke="#111" stroke-width="0.9"/>
<path d="M306.4 393.9h3.9" stroke="#111" stroke-width="0.9"/>
<path d="M306.4 398.6h3.9" stroke="#111" stroke-width="0.9"/>
<path d="M306.4 403.4h3.9" stroke="#111" stroke-width="0.9"/>
<path d="M306.4 408.2h6.6" stroke="#111" stroke-width="0.9"/>
<path d="M306.4 413.0h3.9" stroke="#111" stroke-width="0.9"/>
<path d="M306.4 417.8h3.9" stroke="#111" stroke-width="0.9"/>
<path d="M306.4 422.5h3.9" stroke="#111" stroke-width="0.9"/>
<path d="M306.4 427.3h3.9" stroke="#111" stroke-width="0.9"/>
<text x="316" y="313.7" font-size="8" fill="#222" stroke="#222" stroke-width="0.15" textLength="10.6" lengthAdjust="spacingAndGlyphs">1.0</text>
<text x="316" y="337.6" font-size="8" fill="#222" stroke="#222" stroke-width="0.15" textLength="10.6" lengthAdjust="spacingAndGlyphs">0.8</text>
<text x="316" y="361.5" font-size="8" fill="#222" stroke="#222" stroke-width="0.15" textLength="10.6" lengthAdjust="spacingAndGlyphs">0.6</text>
<text x="316" y="385.4" font-size="8" fill="#222" stroke="#222" stroke-width="0.15" textLength="10.6" lengthAdjust="spacingAndGlyphs">0.4</text>
<text x="316" y="409.3" font-size="8" fill="#222" stroke="#222" stroke-width="0.15" textLength="10.6" lengthAdjust="spacingAndGlyphs">0.2</text>
<text x="292.5" y="304" font-size="14" fill="#222" textLength="27.5" lengthAdjust="spacingAndGlyphs">Max</text>
<text x="294" y="452.7" font-size="14" fill="#222" textLength="25" lengthAdjust="spacingAndGlyphs">Min</text>
<text x="296" y="438.6" font-size="6.6" font-weight="bold" fill="#1c1c4a" textLength="46" lengthAdjust="spacingAndGlyphs">p/sec/cm^2/sr</text>
<text x="332.5" y="371" font-size="7" fill="#334">x10<tspan dy="-3.6" font-size="6.5">6</tspan></text>
</g>
<g id="panelD">
<text x="358" y="281" font-size="12" font-weight="bold" stroke="#000" stroke-width="0.3">D</text>
<path class="ax" d="M394 312V417.3H498.5"/>
<path class="ax" d="M390.5 312.60H394"/>
<text x="372.2" y="317.40" font-size="11">10<tspan dy="-4.3" font-size="8">7</tspan></text>
<path class="ax" d="M390.5 347.40H394"/>
<text x="372.2" y="352.20" font-size="11">10<tspan dy="-4.3" font-size="8">6</tspan></text>
<path class="ax" d="M390.5 382.20H394"/>
<text x="372.2" y="387.00" font-size="11">10<tspan dy="-4.3" font-size="8">5</tspan></text>
<path class="ax" d="M390.5 417.00H394"/>
<text x="372.2" y="421.80" font-size="11">10<tspan dy="-4.3" font-size="8">4</tspan></text>
<text transform="translate(364.8,362.5) rotate(-90)" font-size="11.3" text-anchor="middle">Log<tspan dy="2.5" font-size="7.5">10</tspan><tspan dy="-2.5"> (p/s)</tspan></text>
<rect class="bar" x="401.3" y="387" width="13.6" height="30.30" fill="#f3f3fb"/>
<path class="eb" d="M408.1 387V380.4M404.6 380.4H411.6"/>
<rect class="bar" x="422" y="385.8" width="13.6" height="31.50" fill="#000"/>
<path class="eb" d="M428.8 385.8V381.7M425.3 381.7H432.3"/>
<rect class="bar" x="457.5" y="355.3" width="13.6" height="62.00" fill="#f3f3fb"/>
<path class="eb" d="M464.3 355.3V351.3M460.8 351.3H467.8"/>
<rect class="bar" x="478" y="346.7" width="13.6" height="70.60" fill="#000"/>
<path class="eb" d="M484.8 346.7V342M481.3 342H488.3"/>
<path class="ax" d="M418.5 417.3V421.3"/>
<text x="418.5" y="432.5" font-size="11.2" text-anchor="middle">Day 7</text>
<path class="ax" d="M474.5 417.3V421.3"/>
<text x="474.5" y="432.5" font-size="11.2" text-anchor="middle">Day 14</text>
<rect x="394" y="281.6" width="10.6" height="8.4" fill="#f3f3fb" stroke="#000" stroke-width="1.2"/>
<rect x="394" y="296.4" width="10.6" height="8.4" fill="#000" stroke="#000" stroke-width="1.2"/>
<text x="410" y="291" font-size="10.8">Adora2b<tspan dy="-3.6" dx="0.6" font-size="8" letter-spacing="0.5">f/f</tspan></text>
<text x="410" y="306.5" font-size="10.8">CD11cCre-Adora2b<tspan dy="-3.6" dx="0.6" font-size="8" letter-spacing="0.5">f/f</tspan></text>
</g>
</svg></body></html>
